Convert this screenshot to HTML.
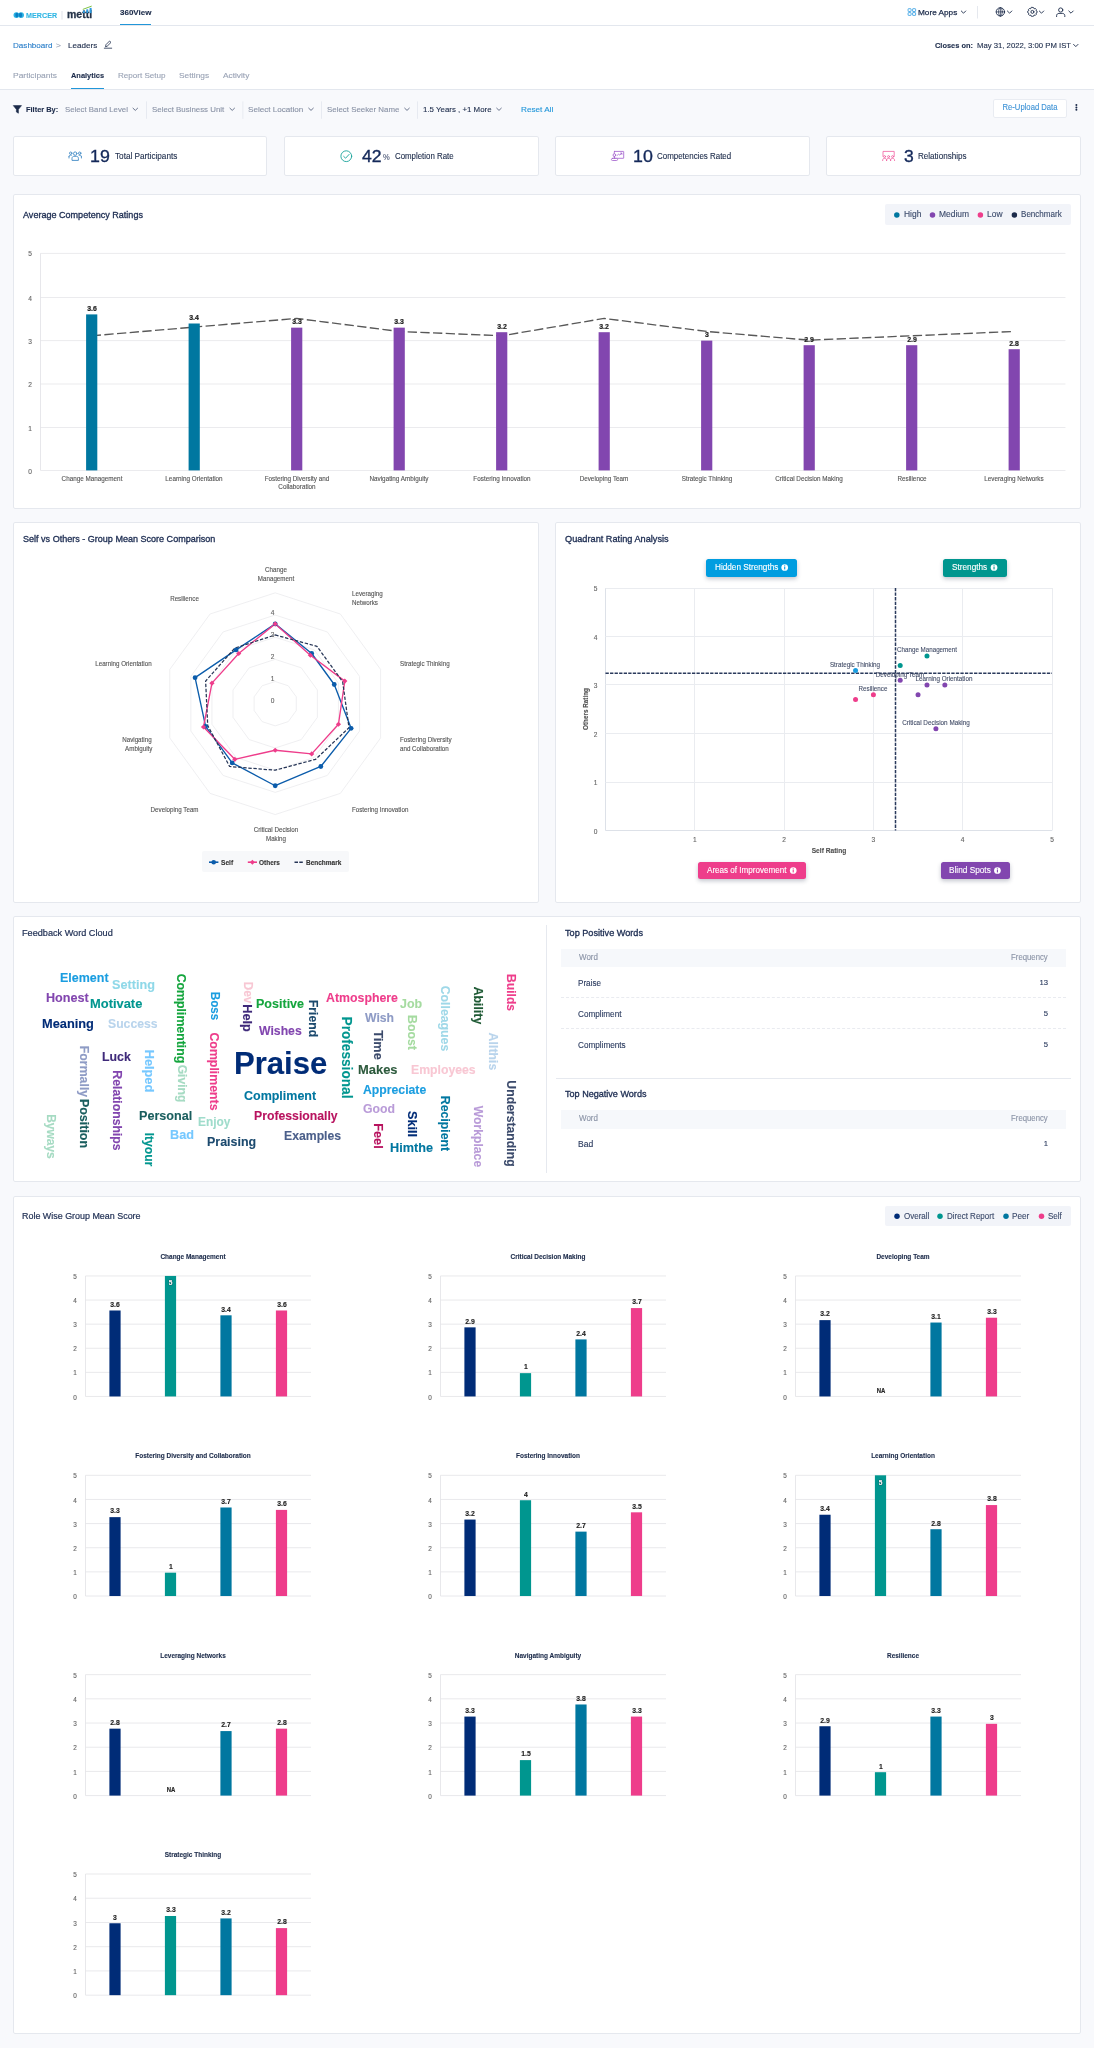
<!DOCTYPE html>
<html><head><meta charset="utf-8"><title>360View Analytics</title>
<style>
html,body{margin:0;padding:0;}
body{width:1094px;height:2048px;background:#f8f9fc;font-family:"Liberation Sans",sans-serif;overflow:hidden;position:relative;}
#root{position:absolute;left:0;top:0;width:1094px;height:2048px;overflow:hidden;will-change:transform;}
.t{position:absolute;white-space:nowrap;margin:0;padding:0;-webkit-text-stroke:0.12px currentColor;}
.b{position:absolute;}
svg{position:absolute;left:0;top:0;overflow:visible;}
svg text{font-family:"Liberation Sans",sans-serif;}
</style></head><body><div id="root">
<div class="b" style="left:0.00px;top:0.00px;width:1094.00px;height:25.00px;background:#fff;border-bottom:1px solid #e3e7ee;"></div>
<div class="b" style="left:0.00px;top:26.00px;width:1094.00px;height:63.00px;background:#fff;border-bottom:1px solid #e3e7ee;"></div>
<svg width="110" height="26" viewBox="0 0 110 26">
<circle cx="16.4" cy="15.1" r="2.9" fill="#2bb3e3"/><circle cx="21.1" cy="15.1" r="2.9" fill="#2bb3e3"/>
<ellipse cx="16.9" cy="15.1" rx="1.6" ry="2.3" fill="#0b7fc4"/><ellipse cx="20.6" cy="15.1" rx="1.6" ry="2.3" fill="#0b7fc4"/>
<rect x="61.6" y="11" width="0.8" height="8.6" fill="#d9dde3"/>
</svg>
<div class="t" style="left:26.24px;transform-origin:0 50%;top:10.68px;font-size:7.9px;line-height:10px;color:#30b6e4;font-weight:700;transform:scaleX(0.8995);letter-spacing:0.1px;">MERCER</div>
<div class="t" style="left:67.22px;transform-origin:0 50%;top:8.22px;font-size:10.2px;line-height:13px;color:#263449;font-weight:700;transform:scaleX(1.0304);-webkit-text-stroke:0.3px #263449;">mettl</div>
<svg width="110" height="26" viewBox="0 0 110 26">
<rect x="82.9" y="10.6" width="1.9" height="2.4" fill="#2d9be0"/>
<rect x="86.3" y="9.3" width="1.9" height="3.7" fill="#2d9be0"/>
<rect x="89.6" y="7.9" width="2.0" height="5.2" fill="#2d9be0"/>
<path d="M82.8 9.4 L91.7 6.1" stroke="#7dc243" stroke-width="1.0" fill="none"/>
</svg>
<div class="t" style="left:119.54px;transform-origin:0 50%;top:7.94px;font-size:8px;line-height:10px;color:#1c2b4a;font-weight:700;transform:scaleX(1.0006);">360View</div>
<div class="b" style="left:119.70px;top:23.80px;width:31.50px;height:1.30px;background:#2196d9;"></div>
<svg width="1094" height="26" viewBox="0 0 1094 26" fill="none">
<g stroke="#47a8e5" stroke-width="0.9">
<rect x="908.1" y="8.7" width="3" height="2.8" rx="0.4"/><rect x="912.6" y="8.7" width="3" height="2.8" rx="0.4"/>
<rect x="908.1" y="12.6" width="3" height="2.8" rx="0.4"/><rect x="912.6" y="12.6" width="3" height="2.8" rx="0.4"/>
</g>
<g stroke="#1c2b4a" stroke-width="0.9" stroke-linecap="round" stroke-linejoin="round">
<path d="M961.3 11 L963.5 13.2 L965.7 11"/>
<circle cx="1000.4" cy="11.9" r="4.2"/><ellipse cx="1000.4" cy="11.9" rx="1.9" ry="4.2" stroke-width="0.7"/><path d="M996.2 11.9 H1004.6 M1000.4 7.7 V16.1" stroke-width="0.7"/>
<path d="M1007.4 11 L1009.6 13.2 L1011.8 11"/>
<circle cx="1032.4" cy="11.9" r="1.5"/>
<path d="M1032.4 7.4 l1.3 0.3 l0.5 1.1 l1.2 -0.3 l0.9 0.9 l-0.3 1.2 l1.1 0.6 l0 1.4 l-1.1 0.6 l0.3 1.2 l-0.9 0.9 l-1.2 -0.3 l-0.5 1.1 l-1.3 0.3 l-1.3 -0.3 l-0.5 -1.1 l-1.2 0.3 l-0.9 -0.9 l0.3 -1.2 l-1.1 -0.6 l0 -1.4 l1.1 -0.6 l-0.3 -1.2 l0.9 -0.9 l1.2 0.3 l0.5 -1.1 z"/>
<path d="M1039.3 11 L1041.5 13.2 L1043.7 11"/>
<circle cx="1060.7" cy="10" r="2.1"/><path d="M1056.6 16.6 V15.6 C1056.6 14.2 1057.8 13.4 1059 13.4 H1062.4 C1063.6 13.4 1064.8 14.2 1064.8 15.6 V16.6"/>
<path d="M1068.8 11 L1071 13.2 L1073.2 11"/>
</g>
<rect x="977.2" y="6" width="0.8" height="12.5" fill="#dfe3ea"/>
</svg>
<div class="t" style="left:918.04px;transform-origin:0 50%;top:7.84px;font-size:8px;line-height:10px;color:#1c2b4a;font-weight:400;transform:scaleX(1.0263);-webkit-text-stroke:0.25px #1c2b4a;">More Apps</div>
<div class="t" style="left:13.05px;transform-origin:0 50%;top:41.04px;font-size:8px;line-height:10px;color:#2b7fc9;font-weight:400;transform:scaleX(1.0105);">Dashboard</div>
<div class="t" style="left:56.22px;transform-origin:0 50%;top:40.84px;font-size:8px;line-height:10px;color:#9aa3b5;font-weight:400;transform:scaleX(1.0606);">&gt;</div>
<div class="t" style="left:67.85px;transform-origin:0 50%;top:41.04px;font-size:8px;line-height:10px;color:#1c2b4a;font-weight:400;transform:scaleX(1.0107);">Leaders</div>
<svg width="120" height="60" viewBox="0 0 120 60" fill="none" stroke="#1c2b4a" stroke-width="0.8" stroke-linejoin="round" stroke-linecap="round">
<path d="M105.6 46.4 L106 44.6 L109.6 41 L111 42.4 L107.4 46 Z"/><path d="M104.3 48.2 H111.7"/></svg>
<div class="t" style="left:934.70px;transform-origin:0 50%;top:41.04px;font-size:8px;line-height:10px;color:#1c2b4a;font-weight:700;transform:scaleX(0.9287);">Closes on:</div>
<div class="t" style="left:976.58px;transform-origin:0 50%;top:41.04px;font-size:8px;line-height:10px;color:#1c2b4a;font-weight:400;transform:scaleX(0.9652);">May 31, 2022, 3:00 PM IST</div>
<svg width="1094" height="60" viewBox="0 0 1094 60" fill="none" stroke="#1c2b4a" stroke-width="0.9" stroke-linecap="round" stroke-linejoin="round"><path d="M1073.6 44.4 L1075.8 46.6 L1078 44.4"/></svg>
<div class="t" style="left:13.03px;transform-origin:0 50%;top:70.94px;font-size:8px;line-height:10px;color:#9aa3b5;font-weight:400;transform:scaleX(1.0543);">Participants</div>
<div class="t" style="left:71.11px;transform-origin:0 50%;top:70.94px;font-size:8px;line-height:10px;color:#1c2b4a;font-weight:700;transform:scaleX(0.9293);">Analytics</div>
<div class="t" style="left:117.55px;transform-origin:0 50%;top:70.94px;font-size:8px;line-height:10px;color:#9aa3b5;font-weight:400;transform:scaleX(1.0095);">Report Setup</div>
<div class="t" style="left:178.63px;transform-origin:0 50%;top:70.94px;font-size:8px;line-height:10px;color:#9aa3b5;font-weight:400;transform:scaleX(1.0396);">Settings</div>
<div class="t" style="left:222.90px;transform-origin:0 50%;top:70.94px;font-size:8px;line-height:10px;color:#9aa3b5;font-weight:400;transform:scaleX(1.0387);">Activity</div>
<div class="b" style="left:71.00px;top:87.70px;width:33.30px;height:1.30px;background:#2196d9;"></div>
<svg width="1094" height="130" viewBox="0 0 1094 130">
<path d="M13.3 105.6 H21.5 L18.4 109.4 V113.2 L16.4 112 V109.4 Z" fill="#1c2b4a" stroke="#1c2b4a" stroke-width="0.6" stroke-linejoin="round"/>
<g fill="none" stroke="#5a6580" stroke-width="0.9" stroke-linecap="round" stroke-linejoin="round">
<path d="M133 108.2 L135.3 110.4 L137.6 108.2"/>
<path d="M229.9 108.2 L232.2 110.4 L234.5 108.2"/>
<path d="M308.7 108.2 L311 110.4 L313.3 108.2"/>
<path d="M404.7 108.2 L407 110.4 L409.3 108.2"/>
<path d="M496.7 108.2 L499 110.4 L501.3 108.2"/>
</g>
<g fill="#e3e7ee"><rect x="146" y="101.4" width="0.8" height="17.4"/><rect x="242.5" y="101.4" width="0.8" height="17.4"/><rect x="321" y="101.4" width="0.8" height="17.4"/><rect x="417.2" y="101.4" width="0.8" height="17.4"/></g>
<g fill="#1c2b4a"><circle cx="1076.4" cy="105.0" r="1.0"/><circle cx="1076.4" cy="107.4" r="1.0"/><circle cx="1076.4" cy="109.8" r="1.0"/></g>
</svg>
<div class="t" style="left:25.52px;transform-origin:0 50%;top:104.94px;font-size:8px;line-height:10px;color:#1c2b4a;font-weight:700;transform:scaleX(0.9281);">Filter By:</div>
<div class="t" style="left:64.55px;transform-origin:0 50%;top:104.94px;font-size:8px;line-height:10px;color:#8a93a6;font-weight:400;transform:scaleX(0.9758);">Select Band Level</div>
<div class="t" style="left:151.75px;transform-origin:0 50%;top:104.94px;font-size:8px;line-height:10px;color:#8a93a6;font-weight:400;transform:scaleX(0.9849);">Select Business Unit</div>
<div class="t" style="left:248.24px;transform-origin:0 50%;top:104.94px;font-size:8px;line-height:10px;color:#8a93a6;font-weight:400;transform:scaleX(1.0123);">Select Location</div>
<div class="t" style="left:327.24px;transform-origin:0 50%;top:104.94px;font-size:8px;line-height:10px;color:#8a93a6;font-weight:400;transform:scaleX(0.9865);">Select Seeker Name</div>
<div class="t" style="left:423.21px;transform-origin:0 50%;top:104.94px;font-size:8px;line-height:10px;color:#1c2b4a;font-weight:400;transform:scaleX(0.9843);">1.5 Years , +1 More</div>
<div class="t" style="left:520.75px;transform-origin:0 50%;top:104.94px;font-size:8px;line-height:10px;color:#2196d9;font-weight:400;transform:scaleX(1.0217);">Reset All</div>
<div class="b" style="left:993.40px;top:99.00px;width:73.60px;height:18.60px;background:#fff;border:1px solid #e9ecf2;border-radius:2px;box-sizing:border-box;"></div>
<div class="t" style="left:529.78px;width:1000px;text-align:center;transform-origin:50% 50%;top:102.86px;font-size:8.2px;line-height:10px;color:#3f93d6;font-weight:400;transform:scaleX(0.9368);">Re-Upload Data</div>
<div class="b" style="left:13.10px;top:136.00px;width:254.10px;height:39.60px;background:#fff;border:1px solid #e5e8ee;border-radius:2px;box-sizing:border-box;"></div>
<div class="b" style="left:284.40px;top:136.00px;width:254.60px;height:39.60px;background:#fff;border:1px solid #e5e8ee;border-radius:2px;box-sizing:border-box;"></div>
<div class="b" style="left:555.20px;top:136.00px;width:254.80px;height:39.60px;background:#fff;border:1px solid #e5e8ee;border-radius:2px;box-sizing:border-box;"></div>
<div class="b" style="left:826.40px;top:136.00px;width:254.70px;height:39.60px;background:#fff;border:1px solid #e5e8ee;border-radius:2px;box-sizing:border-box;"></div>
<div class="t" style="left:90.47px;transform-origin:0 50%;top:145.96px;font-size:17px;line-height:21px;color:#14295a;font-weight:400;transform:scaleX(1.0458);-webkit-text-stroke:0.35px #14295a;">19</div>
<div class="t" style="left:115.14px;transform-origin:0 50%;top:151.18px;font-size:8.55px;line-height:11px;color:#1c2b4a;font-weight:400;transform:scaleX(0.9576);">Total Participants</div>
<div class="t" style="left:361.95px;transform-origin:0 50%;top:145.96px;font-size:17px;line-height:21px;color:#14295a;font-weight:400;transform:scaleX(1.0357);-webkit-text-stroke:0.35px #14295a;">42</div>
<div class="t" style="left:382.84px;transform-origin:0 50%;top:152.22px;font-size:9px;line-height:11px;color:#4a5675;font-weight:400;transform:scaleX(0.8401);">%</div>
<div class="t" style="left:394.61px;transform-origin:0 50%;top:151.18px;font-size:8.55px;line-height:11px;color:#1c2b4a;font-weight:400;transform:scaleX(0.9207);">Completion Rate</div>
<div class="t" style="left:632.66px;transform-origin:0 50%;top:145.96px;font-size:17px;line-height:21px;color:#14295a;font-weight:400;transform:scaleX(1.0471);-webkit-text-stroke:0.35px #14295a;">10</div>
<div class="t" style="left:656.60px;transform-origin:0 50%;top:151.18px;font-size:8.55px;line-height:11px;color:#1c2b4a;font-weight:400;transform:scaleX(0.9293);">Competencies Rated</div>
<div class="t" style="left:904.19px;transform-origin:0 50%;top:145.96px;font-size:17px;line-height:21px;color:#14295a;font-weight:400;transform:scaleX(1.0294);-webkit-text-stroke:0.35px #14295a;">3</div>
<div class="t" style="left:918.05px;transform-origin:0 50%;top:151.18px;font-size:8.55px;line-height:11px;color:#1c2b4a;font-weight:400;transform:scaleX(0.9452);">Relationships</div>
<svg width="1094" height="180" viewBox="0 0 1094 180" fill="none" stroke-linecap="round" stroke-linejoin="round">
<g stroke="#4a8fc7" stroke-width="0.95">
<circle cx="75.2" cy="153.6" r="1.7"/><path d="M72 160 V158.3 C72 157 73 156.3 74 156.3 H76.4 C77.4 156.3 78.4 157 78.4 158.3 V160 Z"/>
<circle cx="70.7" cy="153.2" r="1.2"/><path d="M69 156.6 C69 155.6 69.6 155.2 70.4 155.2 H71.4"/><path d="M69 156.6 V158"/>
<circle cx="79.7" cy="153.2" r="1.2"/><path d="M81.4 156.6 C81.4 155.6 80.8 155.2 80 155.2 H79"/><path d="M81.4 156.6 V158"/>
</g>
<g stroke="#17a39a" stroke-width="0.9"><circle cx="346.3" cy="156.2" r="5.4"/><path d="M343.7 156.4 L345.6 158.2 L349.1 154.4"/></g>
<g stroke="#a565cf" stroke-width="0.85">
<rect x="614.3" y="151.4" width="9.4" height="6.9" rx="0.3"/><path d="M617.4 155.2 L618.6 154.2 L619.8 155 L621.8 153.2 M620.6 153.1 H621.9 V154.4"/>
<circle cx="614.4" cy="155.1" r="1.35" fill="#fff"/><rect x="611.4" y="158.4" width="6.2" height="2.1" rx="1.05" fill="#fff"/><path d="M614.4 156.5 V158.4"/>
</g>
<g stroke="#f0609f" stroke-width="0.8">
<path d="M883 156.4 V151.4 H894.2 V156.4"/>
<circle cx="884.6" cy="156.6" r="1"/><path d="M882.6 160.6 C882.6 158.8 883.4 158.3 884.6 158.3 C885.8 158.3 886.6 158.8 886.6 160.6"/>
<circle cx="888.6" cy="156.6" r="1"/><path d="M886.6 160.6 C886.6 158.8 887.4 158.3 888.6 158.3 C889.8 158.3 890.6 158.8 890.6 160.6"/>
<circle cx="892.6" cy="156.6" r="1"/><path d="M890.6 160.6 C890.6 158.8 891.4 158.3 892.6 158.3 C893.8 158.3 894.6 158.8 894.6 160.6"/>
</g>
</svg>
<div class="b" style="left:13.10px;top:194.40px;width:1068.00px;height:314.50px;background:#fff;border:1px solid #e5e8ee;border-radius:2px;box-sizing:border-box;"></div>
<div class="t" style="left:23.00px;transform-origin:0 50%;top:209.83px;font-size:9.1px;line-height:11px;color:#1d2d52;font-weight:400;transform:scaleX(0.9942);-webkit-text-stroke:0.32px #1d2d52;">Average Competency Ratings</div>
<div class="b" style="left:885.20px;top:204.10px;width:185.90px;height:20.80px;background:#f2f4f9;border-radius:2px;"></div>
<svg width="1094" height="2048" viewBox="0 0 1094 2048"><circle cx="896.8" cy="214.90" r="2.75" fill="#0077a0"/></svg>
<div class="t" style="left:903.62px;transform-origin:0 50%;top:209.06px;font-size:8.3px;line-height:10px;color:#3b4a6b;font-weight:400;transform:scaleX(1.0192);">High</div>
<svg width="1094" height="2048" viewBox="0 0 1094 2048"><circle cx="932.5" cy="214.90" r="2.75" fill="#8246af"/></svg>
<div class="t" style="left:939.12px;transform-origin:0 50%;top:209.06px;font-size:8.3px;line-height:10px;color:#3b4a6b;font-weight:400;transform:scaleX(1.0196);">Medium</div>
<svg width="1094" height="2048" viewBox="0 0 1094 2048"><circle cx="980.4" cy="214.90" r="2.75" fill="#ee3d8b"/></svg>
<div class="t" style="left:987.23px;transform-origin:0 50%;top:209.06px;font-size:8.3px;line-height:10px;color:#3b4a6b;font-weight:400;transform:scaleX(1.0160);">Low</div>
<svg width="1094" height="2048" viewBox="0 0 1094 2048"><circle cx="1014.4" cy="214.90" r="2.75" fill="#1c2b4a"/></svg>
<div class="t" style="left:1021.25px;transform-origin:0 50%;top:209.06px;font-size:8.3px;line-height:10px;color:#3b4a6b;font-weight:400;transform:scaleX(0.9716);">Benchmark</div>
<svg width="1094" height="520" viewBox="0 0 1094 520"><rect x="40.45" y="470.00" width="1025.00" height="1" fill="#ebebee"/><rect x="40.45" y="427.00" width="1025.00" height="1" fill="#ebebee"/><rect x="40.45" y="383.50" width="1025.00" height="1" fill="#ebebee"/><rect x="40.45" y="340.10" width="1025.00" height="1" fill="#ebebee"/><rect x="40.45" y="297.00" width="1025.00" height="1" fill="#ebebee"/><rect x="40.45" y="252.90" width="1025.00" height="1" fill="#ebebee"/><rect x="40.050000000000004" y="253.30" width="0.8" height="217.10" fill="#e2e2e6"/><polyline points="91.70,335.80 194.20,327.11 296.70,318.43 399.20,331.46 501.70,335.80 604.20,318.43 706.70,331.46 809.20,340.14 911.70,335.80 1014.20,331.46" fill="none" stroke="#585858" stroke-width="1.35" stroke-dasharray="9.3 3.4"/><rect x="86.10" y="314.40" width="11.2" height="156.00" fill="#0077a0"/><rect x="188.60" y="323.50" width="11.2" height="146.90" fill="#0077a0"/><rect x="291.10" y="327.65" width="11.2" height="142.75" fill="#8246af"/><rect x="393.60" y="327.65" width="11.2" height="142.75" fill="#8246af"/><rect x="496.10" y="332.20" width="11.2" height="138.20" fill="#8246af"/><rect x="598.60" y="332.20" width="11.2" height="138.20" fill="#8246af"/><rect x="701.10" y="340.60" width="11.2" height="129.80" fill="#8246af"/><rect x="803.60" y="345.20" width="11.2" height="125.20" fill="#8246af"/><rect x="906.10" y="345.20" width="11.2" height="125.20" fill="#8246af"/><rect x="1008.60" y="349.20" width="11.2" height="121.20" fill="#8246af"/></svg>
<div class="t" style="left:-470.00px;width:1000px;text-align:center;transform-origin:50% 50%;top:467.53px;font-size:6.6px;line-height:8px;color:#666;font-weight:400;transform:scaleX(1.0000);">0</div>
<div class="t" style="left:-470.00px;width:1000px;text-align:center;transform-origin:50% 50%;top:424.53px;font-size:6.6px;line-height:8px;color:#666;font-weight:400;transform:scaleX(1.0000);">1</div>
<div class="t" style="left:-470.00px;width:1000px;text-align:center;transform-origin:50% 50%;top:381.03px;font-size:6.6px;line-height:8px;color:#666;font-weight:400;transform:scaleX(1.0000);">2</div>
<div class="t" style="left:-470.00px;width:1000px;text-align:center;transform-origin:50% 50%;top:337.63px;font-size:6.6px;line-height:8px;color:#666;font-weight:400;transform:scaleX(1.0000);">3</div>
<div class="t" style="left:-470.00px;width:1000px;text-align:center;transform-origin:50% 50%;top:294.53px;font-size:6.6px;line-height:8px;color:#666;font-weight:400;transform:scaleX(1.0000);">4</div>
<div class="t" style="left:-470.00px;width:1000px;text-align:center;transform-origin:50% 50%;top:250.43px;font-size:6.6px;line-height:8px;color:#666;font-weight:400;transform:scaleX(1.0000);">5</div>
<div class="t" style="left:-408.30px;width:1000px;text-align:center;transform-origin:50% 50%;top:304.73px;font-size:6.6px;line-height:8px;color:#222;font-weight:700;transform:scaleX(1.0500);-webkit-text-stroke:0.2px #222;">3.6</div>
<div class="t" style="left:-305.80px;width:1000px;text-align:center;transform-origin:50% 50%;top:313.83px;font-size:6.6px;line-height:8px;color:#222;font-weight:700;transform:scaleX(1.0500);-webkit-text-stroke:0.2px #222;">3.4</div>
<div class="t" style="left:-203.30px;width:1000px;text-align:center;transform-origin:50% 50%;top:317.98px;font-size:6.6px;line-height:8px;color:#222;font-weight:700;transform:scaleX(1.0500);-webkit-text-stroke:0.2px #222;">3.3</div>
<div class="t" style="left:-100.80px;width:1000px;text-align:center;transform-origin:50% 50%;top:317.98px;font-size:6.6px;line-height:8px;color:#222;font-weight:700;transform:scaleX(1.0500);-webkit-text-stroke:0.2px #222;">3.3</div>
<div class="t" style="left:1.70px;width:1000px;text-align:center;transform-origin:50% 50%;top:322.53px;font-size:6.6px;line-height:8px;color:#222;font-weight:700;transform:scaleX(1.0500);-webkit-text-stroke:0.2px #222;">3.2</div>
<div class="t" style="left:104.20px;width:1000px;text-align:center;transform-origin:50% 50%;top:322.53px;font-size:6.6px;line-height:8px;color:#222;font-weight:700;transform:scaleX(1.0500);-webkit-text-stroke:0.2px #222;">3.2</div>
<div class="t" style="left:206.70px;width:1000px;text-align:center;transform-origin:50% 50%;top:330.93px;font-size:6.6px;line-height:8px;color:#222;font-weight:700;transform:scaleX(1.0500);-webkit-text-stroke:0.2px #222;">3</div>
<div class="t" style="left:309.20px;width:1000px;text-align:center;transform-origin:50% 50%;top:335.53px;font-size:6.6px;line-height:8px;color:#222;font-weight:700;transform:scaleX(1.0500);-webkit-text-stroke:0.2px #222;">2.9</div>
<div class="t" style="left:411.70px;width:1000px;text-align:center;transform-origin:50% 50%;top:335.53px;font-size:6.6px;line-height:8px;color:#222;font-weight:700;transform:scaleX(1.0500);-webkit-text-stroke:0.2px #222;">2.9</div>
<div class="t" style="left:514.20px;width:1000px;text-align:center;transform-origin:50% 50%;top:339.53px;font-size:6.6px;line-height:8px;color:#222;font-weight:700;transform:scaleX(1.0500);-webkit-text-stroke:0.2px #222;">2.8</div>
<div class="t" style="left:-408.30px;width:1000px;text-align:center;transform-origin:50% 50%;top:474.04px;font-size:6.8px;line-height:9px;color:#555;font-weight:400;transform:scaleX(0.9300);">Change Management</div>
<div class="t" style="left:-305.80px;width:1000px;text-align:center;transform-origin:50% 50%;top:474.04px;font-size:6.8px;line-height:9px;color:#555;font-weight:400;transform:scaleX(0.9300);">Learning Orientation</div>
<div class="t" style="left:-203.30px;width:1000px;text-align:center;transform-origin:50% 50%;top:474.04px;font-size:6.8px;line-height:9px;color:#555;font-weight:400;transform:scaleX(0.9300);">Fostering Diversity and</div>
<div class="t" style="left:-203.30px;width:1000px;text-align:center;transform-origin:50% 50%;top:482.24px;font-size:6.8px;line-height:9px;color:#555;font-weight:400;transform:scaleX(0.9300);">Collaboration</div>
<div class="t" style="left:-100.80px;width:1000px;text-align:center;transform-origin:50% 50%;top:474.04px;font-size:6.8px;line-height:9px;color:#555;font-weight:400;transform:scaleX(0.9300);">Navigating Ambiguity</div>
<div class="t" style="left:1.70px;width:1000px;text-align:center;transform-origin:50% 50%;top:474.04px;font-size:6.8px;line-height:9px;color:#555;font-weight:400;transform:scaleX(0.9300);">Fostering Innovation</div>
<div class="t" style="left:104.20px;width:1000px;text-align:center;transform-origin:50% 50%;top:474.04px;font-size:6.8px;line-height:9px;color:#555;font-weight:400;transform:scaleX(0.9300);">Developing Team</div>
<div class="t" style="left:206.70px;width:1000px;text-align:center;transform-origin:50% 50%;top:474.04px;font-size:6.8px;line-height:9px;color:#555;font-weight:400;transform:scaleX(0.9300);">Strategic Thinking</div>
<div class="t" style="left:309.20px;width:1000px;text-align:center;transform-origin:50% 50%;top:474.04px;font-size:6.8px;line-height:9px;color:#555;font-weight:400;transform:scaleX(0.9300);">Critical Decision Making</div>
<div class="t" style="left:411.70px;width:1000px;text-align:center;transform-origin:50% 50%;top:474.04px;font-size:6.8px;line-height:9px;color:#555;font-weight:400;transform:scaleX(0.9300);">Resilience</div>
<div class="t" style="left:514.20px;width:1000px;text-align:center;transform-origin:50% 50%;top:474.04px;font-size:6.8px;line-height:9px;color:#555;font-weight:400;transform:scaleX(0.9300);">Leveraging Networks</div>
<div class="b" style="left:13.10px;top:522.10px;width:526.00px;height:380.60px;background:#fff;border:1px solid #e5e8ee;border-radius:2px;box-sizing:border-box;"></div>
<div class="t" style="left:22.59px;transform-origin:0 50%;top:533.63px;font-size:9.1px;line-height:11px;color:#1d2d52;font-weight:400;transform:scaleX(0.9936);-webkit-text-stroke:0.32px #1d2d52;">Self vs Others - Group Mean Score Comparison</div>
<div class="b" style="left:201.80px;top:851.20px;width:147.10px;height:20.40px;background:#f7f8fa;border-radius:2px;"></div>
<svg width="560" height="910" viewBox="0 0 560 910" fill="none"><polygon points="275.20,681.53 288.23,685.76 296.28,696.85 296.28,710.55 288.23,721.64 275.20,725.87 262.17,721.64 254.12,710.55 254.12,696.85 262.17,685.76" stroke="#ebebee" stroke-width="0.8"/><polygon points="275.20,659.36 301.26,667.83 317.37,690.00 317.37,717.40 301.26,739.57 275.20,748.04 249.14,739.57 233.03,717.40 233.03,690.00 249.14,667.83" stroke="#ebebee" stroke-width="0.8"/><polygon points="275.20,637.19 314.29,649.89 338.45,683.15 338.45,724.25 314.29,757.51 275.20,770.21 236.11,757.51 211.95,724.25 211.95,683.15 236.11,649.89" stroke="#ebebee" stroke-width="0.8"/><polygon points="275.20,615.02 327.32,631.96 359.54,676.30 359.54,731.10 327.32,775.44 275.20,792.38 223.08,775.44 190.86,731.10 190.86,676.30 223.08,631.96" stroke="#ebebee" stroke-width="0.8"/><polygon points="275.20,592.85 340.36,614.02 380.62,669.45 380.62,737.95 340.36,793.38 275.20,814.55 210.04,793.38 169.78,737.95 169.78,669.45 210.04,614.02" stroke="#ebebee" stroke-width="0.8"/><polygon points="275.20,623.89 311.69,653.48 334.24,684.52 351.11,728.36 320.81,766.48 275.20,785.73 232.20,762.89 205.62,726.31 195.08,677.67 236.11,649.89" stroke="#0b5cab" stroke-width="1.35" stroke-linejoin="round"/><polygon points="275.20,623.89 310.38,655.27 344.78,681.09 338.45,724.25 311.69,753.92 275.20,750.26 234.80,759.30 203.51,726.99 211.95,683.15 238.71,653.48" stroke="#ee3d8b" stroke-width="1.35" stroke-linejoin="round"/><polygon points="275.20,634.97 316.90,646.31 342.67,681.78 349.00,727.68 315.60,759.30 275.20,770.21 229.59,766.48 207.73,725.62 205.62,681.09 234.80,648.10" stroke="#263556" stroke-width="1.25" stroke-dasharray="3.4 1.7" stroke-linejoin="round"/><circle cx="275.20" cy="623.89" r="2.4" fill="#0b5cab"/><circle cx="311.69" cy="653.48" r="2.4" fill="#0b5cab"/><circle cx="334.24" cy="684.52" r="2.4" fill="#0b5cab"/><circle cx="351.11" cy="728.36" r="2.4" fill="#0b5cab"/><circle cx="320.81" cy="766.48" r="2.4" fill="#0b5cab"/><circle cx="275.20" cy="785.73" r="2.4" fill="#0b5cab"/><circle cx="232.20" cy="762.89" r="2.4" fill="#0b5cab"/><circle cx="205.62" cy="726.31" r="2.4" fill="#0b5cab"/><circle cx="195.08" cy="677.67" r="2.4" fill="#0b5cab"/><circle cx="236.11" cy="649.89" r="2.4" fill="#0b5cab"/><path d="M275.20 621.29 L277.80 623.89 L275.20 626.49 L272.60 623.89 Z" fill="#ee3d8b"/><path d="M310.38 652.67 L312.98 655.27 L310.38 657.87 L307.78 655.27 Z" fill="#ee3d8b"/><path d="M344.78 678.49 L347.38 681.09 L344.78 683.69 L342.18 681.09 Z" fill="#ee3d8b"/><path d="M338.45 721.65 L341.05 724.25 L338.45 726.85 L335.85 724.25 Z" fill="#ee3d8b"/><path d="M311.69 751.32 L314.29 753.92 L311.69 756.52 L309.09 753.92 Z" fill="#ee3d8b"/><path d="M275.20 747.66 L277.80 750.26 L275.20 752.86 L272.60 750.26 Z" fill="#ee3d8b"/><path d="M234.80 756.70 L237.40 759.30 L234.80 761.90 L232.20 759.30 Z" fill="#ee3d8b"/><path d="M203.51 724.39 L206.11 726.99 L203.51 729.59 L200.91 726.99 Z" fill="#ee3d8b"/><path d="M211.95 680.55 L214.55 683.15 L211.95 685.75 L209.35 683.15 Z" fill="#ee3d8b"/><path d="M238.71 650.88 L241.31 653.48 L238.71 656.08 L236.11 653.48 Z" fill="#ee3d8b"/><path d="M209 862.2 H218.4" stroke="#0b5cab" stroke-width="1.6"/><circle cx="213.7" cy="862.2" r="2.3" fill="#0b5cab"/><path d="M247.8 862.2 H257" stroke="#ee3d8b" stroke-width="1.6"/><path d="M252.4 859.7 L254.9 862.2 L252.4 864.7 L249.9 862.2 Z" fill="#ee3d8b"/><path d="M294.5 862.2 H302.8" stroke="#263556" stroke-width="1.5" stroke-dasharray="3.5 1.3"/></svg>
<div class="t" style="left:-227.40px;width:1000px;text-align:center;transform-origin:50% 50%;top:697.23px;font-size:6.6px;line-height:8px;color:#666;font-weight:400;transform:scaleX(1.0000);">0</div>
<div class="t" style="left:-227.40px;width:1000px;text-align:center;transform-origin:50% 50%;top:675.06px;font-size:6.6px;line-height:8px;color:#666;font-weight:400;transform:scaleX(1.0000);">1</div>
<div class="t" style="left:-227.40px;width:1000px;text-align:center;transform-origin:50% 50%;top:652.89px;font-size:6.6px;line-height:8px;color:#666;font-weight:400;transform:scaleX(1.0000);">2</div>
<div class="t" style="left:-227.40px;width:1000px;text-align:center;transform-origin:50% 50%;top:630.72px;font-size:6.6px;line-height:8px;color:#666;font-weight:400;transform:scaleX(1.0000);">3</div>
<div class="t" style="left:-227.40px;width:1000px;text-align:center;transform-origin:50% 50%;top:608.55px;font-size:6.6px;line-height:8px;color:#666;font-weight:400;transform:scaleX(1.0000);">4</div>
<div class="t" style="left:-224.50px;width:1000px;text-align:center;transform-origin:50% 50%;top:565.14px;font-size:6.7px;line-height:9px;color:#555;font-weight:400;transform:scaleX(0.9300);">Change</div>
<div class="t" style="left:-224.50px;width:1000px;text-align:center;transform-origin:50% 50%;top:573.54px;font-size:6.7px;line-height:9px;color:#555;font-weight:400;transform:scaleX(0.9300);">Management</div>
<div class="t" style="left:352.00px;transform-origin:0 50%;top:589.14px;font-size:6.7px;line-height:9px;color:#555;font-weight:400;transform:scaleX(0.9300);">Leveraging</div>
<div class="t" style="left:352.00px;transform-origin:0 50%;top:597.54px;font-size:6.7px;line-height:9px;color:#555;font-weight:400;transform:scaleX(0.9300);">Networks</div>
<div class="t" style="left:399.50px;transform-origin:0 50%;top:658.64px;font-size:6.7px;line-height:9px;color:#555;font-weight:400;transform:scaleX(0.9300);">Strategic Thinking</div>
<div class="t" style="left:399.50px;transform-origin:0 50%;top:735.14px;font-size:6.7px;line-height:9px;color:#555;font-weight:400;transform:scaleX(0.9300);">Fostering Diversity</div>
<div class="t" style="left:399.50px;transform-origin:0 50%;top:743.54px;font-size:6.7px;line-height:9px;color:#555;font-weight:400;transform:scaleX(0.9300);">and Collaboration</div>
<div class="t" style="left:352.00px;transform-origin:0 50%;top:804.64px;font-size:6.7px;line-height:9px;color:#555;font-weight:400;transform:scaleX(0.9300);">Fostering Innovation</div>
<div class="t" style="left:-224.50px;width:1000px;text-align:center;transform-origin:50% 50%;top:825.14px;font-size:6.7px;line-height:9px;color:#555;font-weight:400;transform:scaleX(0.9300);">Critical Decision</div>
<div class="t" style="left:-224.50px;width:1000px;text-align:center;transform-origin:50% 50%;top:833.54px;font-size:6.7px;line-height:9px;color:#555;font-weight:400;transform:scaleX(0.9300);">Making</div>
<div class="t" style="right:895.00px;transform-origin:100% 50%;top:804.64px;font-size:6.7px;line-height:9px;color:#555;font-weight:400;transform:scaleX(0.9300);">Developing Team</div>
<div class="t" style="right:942.00px;transform-origin:100% 50%;top:735.14px;font-size:6.7px;line-height:9px;color:#555;font-weight:400;transform:scaleX(0.9300);">Navigating</div>
<div class="t" style="right:942.00px;transform-origin:100% 50%;top:743.54px;font-size:6.7px;line-height:9px;color:#555;font-weight:400;transform:scaleX(0.9300);">Ambiguity</div>
<div class="t" style="right:942.00px;transform-origin:100% 50%;top:658.64px;font-size:6.7px;line-height:9px;color:#555;font-weight:400;transform:scaleX(0.9300);">Learning Orientation</div>
<div class="t" style="right:895.00px;transform-origin:100% 50%;top:593.64px;font-size:6.7px;line-height:9px;color:#555;font-weight:400;transform:scaleX(0.9300);">Resilience</div>
<div class="t" style="left:220.83px;transform-origin:0 50%;top:858.05px;font-size:6.9px;line-height:9px;color:#333;font-weight:700;transform:scaleX(0.9608);">Self</div>
<div class="t" style="left:259.24px;transform-origin:0 50%;top:858.05px;font-size:6.9px;line-height:9px;color:#333;font-weight:700;transform:scaleX(0.9447);">Others</div>
<div class="t" style="left:306.08px;transform-origin:0 50%;top:858.05px;font-size:6.9px;line-height:9px;color:#333;font-weight:700;transform:scaleX(0.9420);">Benchmark</div>
<div class="b" style="left:555.10px;top:522.10px;width:526.00px;height:380.60px;background:#fff;border:1px solid #e5e8ee;border-radius:2px;box-sizing:border-box;"></div>
<div class="t" style="left:564.59px;transform-origin:0 50%;top:533.63px;font-size:9.1px;line-height:11px;color:#1d2d52;font-weight:400;transform:scaleX(1.0101);-webkit-text-stroke:0.32px #1d2d52;">Quadrant Rating Analysis</div>
<svg width="1094" height="910" viewBox="0 0 1094 910" fill="none"><rect x="605" y="588.00" width="1" height="242.50" fill="#dde1e8"/><rect x="605.50" y="830" width="446.50" height="1" fill="#dde1e8"/><rect x="694" y="588.00" width="1" height="242.50" fill="#eaecf0"/><rect x="605.50" y="782" width="446.50" height="1" fill="#eaecf0"/><rect x="784" y="588.00" width="1" height="242.50" fill="#eaecf0"/><rect x="605.50" y="733" width="446.50" height="1" fill="#eaecf0"/><rect x="873" y="588.00" width="1" height="242.50" fill="#eaecf0"/><rect x="605.50" y="684" width="446.50" height="1" fill="#eaecf0"/><rect x="962" y="588.00" width="1" height="242.50" fill="#eaecf0"/><rect x="605.50" y="636" width="446.50" height="1" fill="#eaecf0"/><rect x="1052" y="588.00" width="1" height="242.50" fill="#eaecf0"/><rect x="605.50" y="588" width="446.50" height="1" fill="#eaecf0"/><path d="M895.5 588.00 V830.50" stroke="#2a3a5c" stroke-width="1.5" stroke-dasharray="3.3 1.25"/><path d="M605.50 673.2 H1052.00" stroke="#2a3a5c" stroke-width="1.5" stroke-dasharray="3.3 1.25"/><circle cx="926.98" cy="655.90" r="2.5" fill="#00968f"/><circle cx="900.19" cy="665.60" r="2.5" fill="#00968f"/><circle cx="855.54" cy="670.45" r="2.5" fill="#1a9de0"/><circle cx="900.19" cy="680.15" r="2.5" fill="#8246af"/><circle cx="926.98" cy="685.00" r="2.5" fill="#8246af"/><circle cx="944.84" cy="685.00" r="2.5" fill="#8246af"/><circle cx="918.05" cy="694.70" r="2.5" fill="#8246af"/><circle cx="873.40" cy="694.70" r="2.5" fill="#ee3d8b"/><circle cx="855.54" cy="699.55" r="2.5" fill="#ee3d8b"/><circle cx="935.91" cy="728.65" r="2.5" fill="#8246af"/></svg>
<div class="t" style="left:194.80px;width:1000px;text-align:center;transform-origin:50% 50%;top:835.53px;font-size:6.6px;line-height:8px;color:#666;font-weight:400;transform:scaleX(1.0000);">1</div>
<div class="t" style="left:284.10px;width:1000px;text-align:center;transform-origin:50% 50%;top:835.53px;font-size:6.6px;line-height:8px;color:#666;font-weight:400;transform:scaleX(1.0000);">2</div>
<div class="t" style="left:373.40px;width:1000px;text-align:center;transform-origin:50% 50%;top:835.53px;font-size:6.6px;line-height:8px;color:#666;font-weight:400;transform:scaleX(1.0000);">3</div>
<div class="t" style="left:462.70px;width:1000px;text-align:center;transform-origin:50% 50%;top:835.53px;font-size:6.6px;line-height:8px;color:#666;font-weight:400;transform:scaleX(1.0000);">4</div>
<div class="t" style="left:552.00px;width:1000px;text-align:center;transform-origin:50% 50%;top:835.53px;font-size:6.6px;line-height:8px;color:#666;font-weight:400;transform:scaleX(1.0000);">5</div>
<div class="t" style="left:95.50px;width:1000px;text-align:center;transform-origin:50% 50%;top:827.53px;font-size:6.6px;line-height:8px;color:#666;font-weight:400;transform:scaleX(1.0000);">0</div>
<div class="t" style="left:95.50px;width:1000px;text-align:center;transform-origin:50% 50%;top:779.03px;font-size:6.6px;line-height:8px;color:#666;font-weight:400;transform:scaleX(1.0000);">1</div>
<div class="t" style="left:95.50px;width:1000px;text-align:center;transform-origin:50% 50%;top:730.53px;font-size:6.6px;line-height:8px;color:#666;font-weight:400;transform:scaleX(1.0000);">2</div>
<div class="t" style="left:95.50px;width:1000px;text-align:center;transform-origin:50% 50%;top:682.03px;font-size:6.6px;line-height:8px;color:#666;font-weight:400;transform:scaleX(1.0000);">3</div>
<div class="t" style="left:95.50px;width:1000px;text-align:center;transform-origin:50% 50%;top:633.53px;font-size:6.6px;line-height:8px;color:#666;font-weight:400;transform:scaleX(1.0000);">4</div>
<div class="t" style="left:95.50px;width:1000px;text-align:center;transform-origin:50% 50%;top:585.03px;font-size:6.6px;line-height:8px;color:#666;font-weight:400;transform:scaleX(1.0000);">5</div>
<div class="t" style="left:328.64px;width:1000px;text-align:center;transform-origin:50% 50%;top:845.64px;font-size:6.8px;line-height:9px;color:#505050;font-weight:700;transform:scaleX(0.9747);">Self Rating</div>
<div class="t" style="left:485.5px;width:200px;text-align:center;top:705px;font-size:6.8px;line-height:8px;color:#505050;font-weight:700;transform:rotate(-90deg) scaleX(0.93);transform-origin:50% 50%;">Others Rating</div>
<div class="t" style="left:426.55px;width:1000px;text-align:center;transform-origin:50% 50%;top:645.44px;font-size:6.8px;line-height:9px;color:#46506a;font-weight:400;transform:scaleX(0.9148);">Change Management</div>
<div class="t" style="left:355.25px;width:1000px;text-align:center;transform-origin:50% 50%;top:659.94px;font-size:6.8px;line-height:9px;color:#46506a;font-weight:400;transform:scaleX(0.9238);">Strategic Thinking</div>
<div class="t" style="left:400.15px;width:1000px;text-align:center;transform-origin:50% 50%;top:669.94px;font-size:6.8px;line-height:9px;color:#46506a;font-weight:400;transform:scaleX(0.9234);">Developing Team</div>
<div class="t" style="left:444.44px;width:1000px;text-align:center;transform-origin:50% 50%;top:674.44px;font-size:6.8px;line-height:9px;color:#46506a;font-weight:400;transform:scaleX(0.9232);">Learning Orientation</div>
<div class="t" style="left:373.39px;width:1000px;text-align:center;transform-origin:50% 50%;top:683.94px;font-size:6.8px;line-height:9px;color:#46506a;font-weight:400;transform:scaleX(0.9171);">Resilience</div>
<div class="t" style="left:435.53px;width:1000px;text-align:center;transform-origin:50% 50%;top:717.94px;font-size:6.8px;line-height:9px;color:#46506a;font-weight:400;transform:scaleX(0.9330);">Critical Decision Making</div>
<div class="b" style="left:706.00px;top:558.50px;width:91.00px;height:18.00px;background:#009de0;border-radius:2.5px;box-shadow:0 2px 4px rgba(40,50,80,0.28);"></div>
<div class="t" style="left:714.55px;transform-origin:0 50%;top:562.48px;font-size:8.5px;line-height:11px;color:#fff;font-weight:400;transform:scaleX(0.9646);">Hidden Strengths</div>
<svg width="1094" height="910" viewBox="0 0 1094 910"><circle cx="784.70" cy="567.50" r="3.35" fill="#fff"/><rect x="784.15" y="566.80" width="1.1" height="2.6" fill="#009de0"/><circle cx="784.70" cy="565.80" r="0.65" fill="#009de0"/></svg>
<div class="b" style="left:943.00px;top:558.50px;width:63.50px;height:18.00px;background:#00968f;border-radius:2.5px;box-shadow:0 2px 4px rgba(40,50,80,0.28);"></div>
<div class="t" style="left:952.00px;transform-origin:0 50%;top:562.48px;font-size:8.5px;line-height:11px;color:#fff;font-weight:400;transform:scaleX(0.9682);">Strengths</div>
<svg width="1094" height="910" viewBox="0 0 1094 910"><circle cx="994.03" cy="567.50" r="3.35" fill="#fff"/><rect x="993.48" y="566.80" width="1.1" height="2.6" fill="#00968f"/><circle cx="994.03" cy="565.80" r="0.65" fill="#00968f"/></svg>
<div class="b" style="left:697.50px;top:862.00px;width:108.00px;height:17.00px;background:#ee3d8b;border-radius:2.5px;box-shadow:0 2px 4px rgba(40,50,80,0.28);"></div>
<div class="t" style="left:706.68px;transform-origin:0 50%;top:865.48px;font-size:8.5px;line-height:11px;color:#fff;font-weight:400;transform:scaleX(0.9503);">Areas of Improvement</div>
<svg width="1094" height="910" viewBox="0 0 1094 910"><circle cx="793.22" cy="870.50" r="3.35" fill="#fff"/><rect x="792.67" y="869.80" width="1.1" height="2.6" fill="#ee3d8b"/><circle cx="793.22" cy="868.80" r="0.65" fill="#ee3d8b"/></svg>
<div class="b" style="left:940.50px;top:862.00px;width:69.00px;height:17.00px;background:#8246af;border-radius:2.5px;box-shadow:0 2px 4px rgba(40,50,80,0.28);"></div>
<div class="t" style="left:948.81px;transform-origin:0 50%;top:865.48px;font-size:8.5px;line-height:11px;color:#fff;font-weight:400;transform:scaleX(0.9719);">Blind Spots</div>
<svg width="1094" height="910" viewBox="0 0 1094 910"><circle cx="997.42" cy="870.50" r="3.35" fill="#fff"/><rect x="996.87" y="869.80" width="1.1" height="2.6" fill="#8246af"/><circle cx="997.42" cy="868.80" r="0.65" fill="#8246af"/></svg>
<div class="b" style="left:13.10px;top:916.10px;width:1068.00px;height:265.60px;background:#fff;border:1px solid #e5e8ee;border-radius:2px;box-sizing:border-box;"></div>
<div class="t" style="left:22.27px;transform-origin:0 50%;top:927.83px;font-size:9.1px;line-height:11px;color:#1d2d52;font-weight:400;transform:scaleX(1.0046);-webkit-text-stroke:0.2px #1d2d52;">Feedback Word Cloud</div>
<div class="b" style="left:546.20px;top:925.00px;width:0.80px;height:248.00px;background:#e6e9ef;"></div>
<div class="t" style="left:59.59px;transform-origin:0 50%;top:970.33px;font-size:12.86px;line-height:16px;color:#1a9de0;font-weight:700;transform:scaleX(0.9702);">Element</div>
<div class="t" style="left:111.88px;transform-origin:0 50%;top:977.04px;font-size:13.06px;line-height:16px;color:#8fd8e8;font-weight:700;transform:scaleX(0.9699);">Setting</div>
<div class="t" style="left:45.78px;transform-origin:0 50%;top:990.04px;font-size:13.03px;line-height:16px;color:#8246af;font-weight:700;transform:scaleX(0.9700);">Honest</div>
<div class="t" style="left:90.46px;transform-origin:0 50%;top:996.46px;font-size:13.3px;line-height:16px;color:#00968f;font-weight:700;transform:scaleX(0.9702);">Motivate</div>
<div class="t" style="left:41.57px;transform-origin:0 50%;top:1016.26px;font-size:13.21px;line-height:16px;color:#002c77;font-weight:700;transform:scaleX(0.9701);">Meaning</div>
<div class="t" style="left:108.39px;transform-origin:0 50%;top:1016.21px;font-size:12.6px;line-height:16px;color:#b9d4ec;font-weight:700;transform:scaleX(0.9702);">Success</div>
<div class="t" style="left:101.90px;transform-origin:0 50%;top:1048.72px;font-size:12.73px;line-height:16px;color:#3f2a7a;font-weight:700;transform:scaleX(0.9703);">Luck</div>
<div class="t" style="left:139.18px;transform-origin:0 50%;top:1107.74px;font-size:13.01px;line-height:16px;color:#1a5e5e;font-weight:700;transform:scaleX(0.9697);">Personal</div>
<div class="t" style="left:198.43px;transform-origin:0 50%;top:1115.28px;font-size:12.27px;line-height:15px;color:#9fdccb;font-weight:700;transform:scaleX(0.9700);">Enjoy</div>
<div class="t" style="left:170.38px;transform-origin:0 50%;top:1127.44px;font-size:13.06px;line-height:16px;color:#76c8ff;font-weight:700;transform:scaleX(0.9702);">Bad</div>
<div class="t" style="left:206.69px;transform-origin:0 50%;top:1133.83px;font-size:12.84px;line-height:16px;color:#1c4a6e;font-weight:700;transform:scaleX(0.9697);">Praising</div>
<div class="t" style="left:256.18px;transform-origin:0 50%;top:996.43px;font-size:12.93px;line-height:16px;color:#14a53d;font-weight:700;transform:scaleX(0.9698);">Positive</div>
<div class="t" style="left:259.20px;transform-origin:0 50%;top:1022.61px;font-size:12.62px;line-height:16px;color:#8246af;font-weight:700;transform:scaleX(0.9701);">Wishes</div>
<div class="t" style="left:233.58px;transform-origin:0 50%;top:1044.16px;font-size:32px;line-height:39px;color:#002c77;font-weight:700;transform:scaleX(0.9714);">Praise</div>
<div class="t" style="left:244.20px;transform-origin:0 50%;top:1088.23px;font-size:12.86px;line-height:16px;color:#0077a0;font-weight:700;transform:scaleX(0.9703);">Compliment</div>
<div class="t" style="left:254.40px;transform-origin:0 50%;top:1107.71px;font-size:12.62px;line-height:16px;color:#b8135f;font-weight:700;transform:scaleX(0.9703);">Professionally</div>
<div class="t" style="left:284.30px;transform-origin:0 50%;top:1127.91px;font-size:12.61px;line-height:16px;color:#4b5f8a;font-weight:700;transform:scaleX(0.9700);">Examples</div>
<div class="t" style="left:326.19px;transform-origin:0 50%;top:990.02px;font-size:12.72px;line-height:16px;color:#ee3d8b;font-weight:700;transform:scaleX(0.9698);">Atmosphere</div>
<div class="t" style="left:400.41px;transform-origin:0 50%;top:996.43px;font-size:12.83px;line-height:16px;color:#a5dba0;font-weight:700;transform:scaleX(0.9697);">Job</div>
<div class="t" style="left:364.50px;transform-origin:0 50%;top:1009.51px;font-size:12.58px;line-height:16px;color:#8e9bc5;font-weight:700;transform:scaleX(0.9697);">Wish</div>
<div class="t" style="left:358.46px;transform-origin:0 50%;top:1061.87px;font-size:13.33px;line-height:16px;color:#2d5a3d;font-weight:700;transform:scaleX(0.9698);">Makes</div>
<div class="t" style="left:411.20px;transform-origin:0 50%;top:1062.01px;font-size:12.64px;line-height:16px;color:#f8c7d3;font-weight:700;transform:scaleX(0.9698);">Employees</div>
<div class="t" style="left:363.49px;transform-origin:0 50%;top:1081.51px;font-size:12.61px;line-height:16px;color:#1a9de0;font-weight:700;transform:scaleX(0.9699);">Appreciate</div>
<div class="t" style="left:362.81px;transform-origin:0 50%;top:1101.21px;font-size:12.63px;line-height:16px;color:#b99bd8;font-weight:700;transform:scaleX(0.9703);">Good</div>
<div class="t" style="left:389.58px;transform-origin:0 50%;top:1140.45px;font-size:13.08px;line-height:16px;color:#0077a0;font-weight:700;transform:scaleX(0.9699);">Himthe</div>
<div class="t" style="left:-118.00px;width:600px;text-align:center;top:1011.00px;font-size:12.71px;line-height:15px;color:#14a53d;font-weight:700;transform:rotate(90deg) scaleX(0.9700) translateY(0.51px);transform-origin:50% 50%;">Complimenting</div>
<div class="t" style="left:-118.00px;width:600px;text-align:center;top:1076.35px;font-size:12.45px;line-height:15px;color:#a6dbc3;font-weight:700;transform:rotate(90deg) scaleX(0.9703) translateY(0.50px);transform-origin:50% 50%;">Giving</div>
<div class="t" style="left:-84.60px;width:600px;text-align:center;top:998.70px;font-size:12.05px;line-height:14px;color:#1a9de0;font-weight:700;transform:rotate(90deg) scaleX(0.9697) translateY(0.48px);transform-origin:50% 50%;">Boss</div>
<div class="t" style="left:-84.60px;width:600px;text-align:center;top:1063.60px;font-size:12.71px;line-height:15px;color:#ee3d8b;font-weight:700;transform:rotate(90deg) scaleX(0.9703) translateY(0.51px);transform-origin:50% 50%;">Compliments</div>
<div class="t" style="left:-52.00px;width:600px;text-align:center;top:984.85px;font-size:12.17px;line-height:15px;color:#f8c7d3;font-weight:700;transform:rotate(90deg) scaleX(0.9702) translateY(0.49px);transform-origin:50% 50%;">Dev</div>
<div class="t" style="left:-52.00px;width:600px;text-align:center;top:1010.15px;font-size:13.16px;line-height:16px;color:#3f2a7a;font-weight:700;transform:rotate(90deg) scaleX(0.9701) translateY(0.53px);transform-origin:50% 50%;">Help</div>
<div class="t" style="left:-150.00px;width:600px;text-align:center;top:1062.75px;font-size:13.16px;line-height:16px;color:#76c8ff;font-weight:700;transform:rotate(90deg) scaleX(0.9697) translateY(0.53px);transform-origin:50% 50%;">Helped</div>
<div class="t" style="left:-215.30px;width:600px;text-align:center;top:1063.80px;font-size:12.72px;line-height:15px;color:#8e9bc5;font-weight:700;transform:rotate(90deg) scaleX(0.9702) translateY(0.51px);transform-origin:50% 50%;">Formally</div>
<div class="t" style="left:-215.30px;width:600px;text-align:center;top:1116.35px;font-size:12.87px;line-height:15px;color:#1a5e5e;font-weight:700;transform:rotate(90deg) scaleX(0.9702) translateY(0.51px);transform-origin:50% 50%;">Position</div>
<div class="t" style="left:-183.30px;width:600px;text-align:center;top:1102.55px;font-size:12.63px;line-height:15px;color:#8246af;font-weight:700;transform:rotate(90deg) scaleX(0.9702) translateY(0.51px);transform-origin:50% 50%;">Relationships</div>
<div class="t" style="left:-248.60px;width:600px;text-align:center;top:1129.20px;font-size:12.34px;line-height:15px;color:#a6dbc3;font-weight:700;transform:rotate(90deg) scaleX(0.9702) translateY(0.49px);transform-origin:50% 50%;">Byways</div>
<div class="t" style="left:-151.20px;width:600px;text-align:center;top:1141.70px;font-size:12.52px;line-height:15px;color:#00968f;font-weight:700;transform:rotate(90deg) scaleX(0.9703) translateY(0.50px);transform-origin:50% 50%;">Ityour</div>
<div class="t" style="left:13.40px;width:600px;text-align:center;top:1011.20px;font-size:12.55px;line-height:15px;color:#1c4a6e;font-weight:700;transform:rotate(90deg) scaleX(0.9698) translateY(0.50px);transform-origin:50% 50%;">Friend</div>
<div class="t" style="left:46.70px;width:600px;text-align:center;top:1049.25px;font-size:14.07px;line-height:17px;color:#00968f;font-weight:700;transform:rotate(90deg) scaleX(0.9698) translateY(0.56px);transform-origin:50% 50%;">Professional</div>
<div class="t" style="left:78.70px;width:600px;text-align:center;top:1036.70px;font-size:13.23px;line-height:16px;color:#3b4a6b;font-weight:700;transform:rotate(90deg) scaleX(0.9702) translateY(0.53px);transform-origin:50% 50%;">Time</div>
<div class="t" style="left:112.00px;width:600px;text-align:center;top:1024.60px;font-size:12.7px;line-height:15px;color:#a5dba0;font-weight:700;transform:rotate(90deg) scaleX(0.9700) translateY(0.51px);transform-origin:50% 50%;">Boost</div>
<div class="t" style="left:144.50px;width:600px;text-align:center;top:1011.20px;font-size:12.66px;line-height:15px;color:#9fd8e8;font-weight:700;transform:rotate(90deg) scaleX(0.9701) translateY(0.51px);transform-origin:50% 50%;">Colleagues</div>
<div class="t" style="left:112.50px;width:600px;text-align:center;top:1115.50px;font-size:13.01px;line-height:16px;color:#002c77;font-weight:700;transform:rotate(90deg) scaleX(0.9701) translateY(0.52px);transform-origin:50% 50%;">Skill</div>
<div class="t" style="left:79.20px;width:600px;text-align:center;top:1128.30px;font-size:13.12px;line-height:16px;color:#b8135f;font-weight:700;transform:rotate(90deg) scaleX(0.9701) translateY(0.52px);transform-origin:50% 50%;">Feel</div>
<div class="t" style="left:144.50px;width:600px;text-align:center;top:1116.00px;font-size:12.66px;line-height:15px;color:#0077a0;font-weight:700;transform:rotate(90deg) scaleX(0.9700) translateY(0.51px);transform-origin:50% 50%;">Recipient</div>
<div class="t" style="left:210.70px;width:600px;text-align:center;top:985.05px;font-size:12.52px;line-height:15px;color:#ee3d8b;font-weight:700;transform:rotate(90deg) scaleX(0.9704) translateY(0.50px);transform-origin:50% 50%;">Builds</div>
<div class="t" style="left:178.20px;width:600px;text-align:center;top:997.95px;font-size:12.69px;line-height:15px;color:#1f5a35;font-weight:700;transform:rotate(90deg) scaleX(0.9701) translateY(0.51px);transform-origin:50% 50%;">Ability</div>
<div class="t" style="left:193.90px;width:600px;text-align:center;top:1043.70px;font-size:12.74px;line-height:15px;color:#b9d4ec;font-weight:700;transform:rotate(90deg) scaleX(0.9697) translateY(0.51px);transform-origin:50% 50%;">Allthis</div>
<div class="t" style="left:210.70px;width:600px;text-align:center;top:1115.60px;font-size:12.62px;line-height:15px;color:#3b4a6b;font-weight:700;transform:rotate(90deg) scaleX(0.9696) translateY(0.50px);transform-origin:50% 50%;">Understanding</div>
<div class="t" style="left:178.20px;width:600px;text-align:center;top:1128.50px;font-size:12.55px;line-height:15px;color:#b99bd8;font-weight:700;transform:rotate(90deg) scaleX(0.9702) translateY(0.50px);transform-origin:50% 50%;">Workplace</div>
<div class="t" style="left:564.82px;transform-origin:0 50%;top:927.83px;font-size:9.1px;line-height:11px;color:#1d2d52;font-weight:400;transform:scaleX(1.0037);-webkit-text-stroke:0.32px #1d2d52;">Top Positive Words</div>
<div class="b" style="left:561.00px;top:949.00px;width:505.00px;height:18.00px;background:#f6f8fb;"></div>
<div class="t" style="left:578.50px;transform-origin:0 50%;top:952.96px;font-size:8.2px;line-height:10px;color:#8a93a6;font-weight:400;transform:scaleX(0.9767);">Word</div>
<div class="t" style="right:46.00px;transform-origin:100% 50%;top:952.96px;font-size:8.2px;line-height:10px;color:#8a93a6;font-weight:400;transform:scaleX(0.9452);">Frequency</div>
<div class="t" style="left:578.05px;transform-origin:0 50%;top:977.66px;font-size:8.3px;line-height:10px;color:#2a3a5e;font-weight:400;transform:scaleX(0.9763);">Praise</div>
<div class="t" style="right:46.00px;transform-origin:100% 50%;top:977.62px;font-size:7.7px;line-height:10px;color:#2a3a5e;font-weight:400;transform:scaleX(1.0000);">13</div>
<div class="t" style="left:578.29px;transform-origin:0 50%;top:1008.66px;font-size:8.3px;line-height:10px;color:#2a3a5e;font-weight:400;transform:scaleX(0.9812);">Compliment</div>
<div class="t" style="right:46.00px;transform-origin:100% 50%;top:1008.62px;font-size:7.7px;line-height:10px;color:#2a3a5e;font-weight:400;transform:scaleX(1.0000);">5</div>
<div class="t" style="left:578.29px;transform-origin:0 50%;top:1039.66px;font-size:8.3px;line-height:10px;color:#2a3a5e;font-weight:400;transform:scaleX(0.9848);">Compliments</div>
<div class="t" style="right:46.00px;transform-origin:100% 50%;top:1039.62px;font-size:7.7px;line-height:10px;color:#2a3a5e;font-weight:400;transform:scaleX(1.0000);">5</div>
<div class="b" style="left:561.00px;top:997.10px;width:505.00px;height:0.00px;border-top:1px dashed #e9ebf0;"></div>
<div class="b" style="left:561.00px;top:1028.10px;width:505.00px;height:0.00px;border-top:1px dashed #e9ebf0;"></div>
<div class="b" style="left:556.00px;top:1078.10px;width:515.00px;height:0.80px;background:#e6e9ef;"></div>
<div class="t" style="left:564.82px;transform-origin:0 50%;top:1089.23px;font-size:9.1px;line-height:11px;color:#1d2d52;font-weight:400;transform:scaleX(0.9968);-webkit-text-stroke:0.32px #1d2d52;">Top Negative Words</div>
<div class="b" style="left:561.00px;top:1110.00px;width:505.00px;height:18.50px;background:#f6f8fb;"></div>
<div class="t" style="left:578.50px;transform-origin:0 50%;top:1113.96px;font-size:8.2px;line-height:10px;color:#8a93a6;font-weight:400;transform:scaleX(0.9767);">Word</div>
<div class="t" style="right:46.00px;transform-origin:100% 50%;top:1113.96px;font-size:8.2px;line-height:10px;color:#8a93a6;font-weight:400;transform:scaleX(0.9452);">Frequency</div>
<div class="t" style="left:578.02px;transform-origin:0 50%;top:1138.66px;font-size:8.3px;line-height:10px;color:#2a3a5e;font-weight:400;transform:scaleX(1.0285);">Bad</div>
<div class="t" style="right:46.00px;transform-origin:100% 50%;top:1138.62px;font-size:7.7px;line-height:10px;color:#2a3a5e;font-weight:400;transform:scaleX(1.0000);">1</div>
<div class="b" style="left:13.10px;top:1196.00px;width:1068.00px;height:838.20px;background:#fff;border:1px solid #e5e8ee;border-radius:2px;box-sizing:border-box;"></div>
<div class="t" style="left:22.29px;transform-origin:0 50%;top:1211.23px;font-size:9.1px;line-height:11px;color:#1d2d52;font-weight:400;transform:scaleX(0.9812);-webkit-text-stroke:0.2px #1d2d52;">Role Wise Group Mean Score</div>
<div class="b" style="left:885.10px;top:1205.50px;width:186.10px;height:20.70px;background:#f2f4f9;border-radius:2px;"></div>
<svg width="1094" height="2048" viewBox="0 0 1094 2048"><circle cx="897" cy="1216.3" r="2.75" fill="#002c77"/></svg>
<div class="t" style="left:903.64px;transform-origin:0 50%;top:1210.96px;font-size:8.3px;line-height:10px;color:#3b4a6b;font-weight:400;transform:scaleX(0.9646);">Overall</div>
<svg width="1094" height="2048" viewBox="0 0 1094 2048"><circle cx="940" cy="1216.3" r="2.75" fill="#00968f"/></svg>
<div class="t" style="left:946.86px;transform-origin:0 50%;top:1210.96px;font-size:8.3px;line-height:10px;color:#3b4a6b;font-weight:400;transform:scaleX(0.9643);">Direct Report</div>
<svg width="1094" height="2048" viewBox="0 0 1094 2048"><circle cx="1006" cy="1216.3" r="2.75" fill="#0077a0"/></svg>
<div class="t" style="left:1012.35px;transform-origin:0 50%;top:1210.96px;font-size:8.3px;line-height:10px;color:#3b4a6b;font-weight:400;transform:scaleX(0.9841);">Peer</div>
<svg width="1094" height="2048" viewBox="0 0 1094 2048"><circle cx="1041.5" cy="1216.3" r="2.75" fill="#ee3d8b"/></svg>
<div class="t" style="left:1048.14px;transform-origin:0 50%;top:1210.96px;font-size:8.3px;line-height:10px;color:#3b4a6b;font-weight:400;transform:scaleX(0.9682);">Self</div>
<svg width="1094" height="2048" viewBox="0 0 1094 2048"><rect x="85.50" y="1395.95" width="225.50" height="1" fill="#e9e9ec"/><rect x="85.50" y="1371.85" width="225.50" height="1" fill="#e9e9ec"/><rect x="85.50" y="1347.75" width="225.50" height="1" fill="#e9e9ec"/><rect x="85.50" y="1323.65" width="225.50" height="1" fill="#e9e9ec"/><rect x="85.50" y="1299.55" width="225.50" height="1" fill="#e9e9ec"/><rect x="85.50" y="1275.45" width="225.50" height="1" fill="#e9e9ec"/><rect x="85.10" y="1275.95" width="0.8" height="120.50" fill="#e2e2e6"/><rect x="109.40" y="1310.49" width="11.2" height="85.96" fill="#002c77"/><rect x="164.90" y="1275.95" width="11.2" height="120.50" fill="#00968f"/><rect x="220.40" y="1315.31" width="11.2" height="81.14" fill="#0077a0"/><rect x="275.90" y="1310.49" width="11.2" height="85.96" fill="#ee3d8b"/><rect x="440.50" y="1395.95" width="225.50" height="1" fill="#e9e9ec"/><rect x="440.50" y="1371.85" width="225.50" height="1" fill="#e9e9ec"/><rect x="440.50" y="1347.75" width="225.50" height="1" fill="#e9e9ec"/><rect x="440.50" y="1323.65" width="225.50" height="1" fill="#e9e9ec"/><rect x="440.50" y="1299.55" width="225.50" height="1" fill="#e9e9ec"/><rect x="440.50" y="1275.45" width="225.50" height="1" fill="#e9e9ec"/><rect x="440.10" y="1275.95" width="0.8" height="120.50" fill="#e2e2e6"/><rect x="464.40" y="1327.36" width="11.2" height="69.09" fill="#002c77"/><rect x="519.90" y="1373.15" width="11.2" height="23.30" fill="#00968f"/><rect x="575.40" y="1339.41" width="11.2" height="57.04" fill="#0077a0"/><rect x="630.90" y="1308.08" width="11.2" height="88.37" fill="#ee3d8b"/><rect x="795.50" y="1395.95" width="225.50" height="1" fill="#e9e9ec"/><rect x="795.50" y="1371.85" width="225.50" height="1" fill="#e9e9ec"/><rect x="795.50" y="1347.75" width="225.50" height="1" fill="#e9e9ec"/><rect x="795.50" y="1323.65" width="225.50" height="1" fill="#e9e9ec"/><rect x="795.50" y="1299.55" width="225.50" height="1" fill="#e9e9ec"/><rect x="795.50" y="1275.45" width="225.50" height="1" fill="#e9e9ec"/><rect x="795.10" y="1275.95" width="0.8" height="120.50" fill="#e2e2e6"/><rect x="819.40" y="1320.13" width="11.2" height="76.32" fill="#002c77"/><rect x="930.40" y="1322.54" width="11.2" height="73.91" fill="#0077a0"/><rect x="985.90" y="1317.72" width="11.2" height="78.73" fill="#ee3d8b"/><rect x="85.50" y="1595.52" width="225.50" height="1" fill="#e9e9ec"/><rect x="85.50" y="1571.38" width="225.50" height="1" fill="#e9e9ec"/><rect x="85.50" y="1547.23" width="225.50" height="1" fill="#e9e9ec"/><rect x="85.50" y="1523.09" width="225.50" height="1" fill="#e9e9ec"/><rect x="85.50" y="1498.94" width="225.50" height="1" fill="#e9e9ec"/><rect x="85.50" y="1474.80" width="225.50" height="1" fill="#e9e9ec"/><rect x="85.10" y="1475.30" width="0.8" height="120.72" fill="#e2e2e6"/><rect x="109.40" y="1517.14" width="11.2" height="78.88" fill="#002c77"/><rect x="164.90" y="1572.68" width="11.2" height="23.34" fill="#00968f"/><rect x="220.40" y="1507.49" width="11.2" height="88.53" fill="#0077a0"/><rect x="275.90" y="1509.90" width="11.2" height="86.12" fill="#ee3d8b"/><rect x="440.50" y="1595.52" width="225.50" height="1" fill="#e9e9ec"/><rect x="440.50" y="1571.38" width="225.50" height="1" fill="#e9e9ec"/><rect x="440.50" y="1547.23" width="225.50" height="1" fill="#e9e9ec"/><rect x="440.50" y="1523.09" width="225.50" height="1" fill="#e9e9ec"/><rect x="440.50" y="1498.94" width="225.50" height="1" fill="#e9e9ec"/><rect x="440.50" y="1474.80" width="225.50" height="1" fill="#e9e9ec"/><rect x="440.10" y="1475.30" width="0.8" height="120.72" fill="#e2e2e6"/><rect x="464.40" y="1519.56" width="11.2" height="76.46" fill="#002c77"/><rect x="519.90" y="1500.24" width="11.2" height="95.78" fill="#00968f"/><rect x="575.40" y="1531.63" width="11.2" height="64.39" fill="#0077a0"/><rect x="630.90" y="1512.32" width="11.2" height="83.70" fill="#ee3d8b"/><rect x="795.50" y="1595.52" width="225.50" height="1" fill="#e9e9ec"/><rect x="795.50" y="1571.38" width="225.50" height="1" fill="#e9e9ec"/><rect x="795.50" y="1547.23" width="225.50" height="1" fill="#e9e9ec"/><rect x="795.50" y="1523.09" width="225.50" height="1" fill="#e9e9ec"/><rect x="795.50" y="1498.94" width="225.50" height="1" fill="#e9e9ec"/><rect x="795.50" y="1474.80" width="225.50" height="1" fill="#e9e9ec"/><rect x="795.10" y="1475.30" width="0.8" height="120.72" fill="#e2e2e6"/><rect x="819.40" y="1514.73" width="11.2" height="81.29" fill="#002c77"/><rect x="874.90" y="1475.30" width="11.2" height="120.72" fill="#00968f"/><rect x="930.40" y="1529.22" width="11.2" height="66.80" fill="#0077a0"/><rect x="985.90" y="1505.07" width="11.2" height="90.95" fill="#ee3d8b"/><rect x="85.50" y="1795.09" width="225.50" height="1" fill="#e9e9ec"/><rect x="85.50" y="1770.90" width="225.50" height="1" fill="#e9e9ec"/><rect x="85.50" y="1746.71" width="225.50" height="1" fill="#e9e9ec"/><rect x="85.50" y="1722.53" width="225.50" height="1" fill="#e9e9ec"/><rect x="85.50" y="1698.34" width="225.50" height="1" fill="#e9e9ec"/><rect x="85.50" y="1674.15" width="225.50" height="1" fill="#e9e9ec"/><rect x="85.10" y="1674.65" width="0.8" height="120.94" fill="#e2e2e6"/><rect x="109.40" y="1728.66" width="11.2" height="66.93" fill="#002c77"/><rect x="220.40" y="1731.08" width="11.2" height="64.51" fill="#0077a0"/><rect x="275.90" y="1728.66" width="11.2" height="66.93" fill="#ee3d8b"/><rect x="440.50" y="1795.09" width="225.50" height="1" fill="#e9e9ec"/><rect x="440.50" y="1770.90" width="225.50" height="1" fill="#e9e9ec"/><rect x="440.50" y="1746.71" width="225.50" height="1" fill="#e9e9ec"/><rect x="440.50" y="1722.53" width="225.50" height="1" fill="#e9e9ec"/><rect x="440.50" y="1698.34" width="225.50" height="1" fill="#e9e9ec"/><rect x="440.50" y="1674.15" width="225.50" height="1" fill="#e9e9ec"/><rect x="440.10" y="1674.65" width="0.8" height="120.94" fill="#e2e2e6"/><rect x="464.40" y="1716.57" width="11.2" height="79.02" fill="#002c77"/><rect x="519.90" y="1760.11" width="11.2" height="35.48" fill="#00968f"/><rect x="575.40" y="1704.48" width="11.2" height="91.11" fill="#0077a0"/><rect x="630.90" y="1716.57" width="11.2" height="79.02" fill="#ee3d8b"/><rect x="795.50" y="1795.09" width="225.50" height="1" fill="#e9e9ec"/><rect x="795.50" y="1770.90" width="225.50" height="1" fill="#e9e9ec"/><rect x="795.50" y="1746.71" width="225.50" height="1" fill="#e9e9ec"/><rect x="795.50" y="1722.53" width="225.50" height="1" fill="#e9e9ec"/><rect x="795.50" y="1698.34" width="225.50" height="1" fill="#e9e9ec"/><rect x="795.50" y="1674.15" width="225.50" height="1" fill="#e9e9ec"/><rect x="795.10" y="1674.65" width="0.8" height="120.94" fill="#e2e2e6"/><rect x="819.40" y="1726.24" width="11.2" height="69.35" fill="#002c77"/><rect x="874.90" y="1772.20" width="11.2" height="23.39" fill="#00968f"/><rect x="930.40" y="1716.57" width="11.2" height="79.02" fill="#0077a0"/><rect x="985.90" y="1723.83" width="11.2" height="71.76" fill="#ee3d8b"/><rect x="85.50" y="1994.66" width="225.50" height="1" fill="#e9e9ec"/><rect x="85.50" y="1970.43" width="225.50" height="1" fill="#e9e9ec"/><rect x="85.50" y="1946.20" width="225.50" height="1" fill="#e9e9ec"/><rect x="85.50" y="1921.96" width="225.50" height="1" fill="#e9e9ec"/><rect x="85.50" y="1897.73" width="225.50" height="1" fill="#e9e9ec"/><rect x="85.50" y="1873.50" width="225.50" height="1" fill="#e9e9ec"/><rect x="85.10" y="1874.00" width="0.8" height="121.16" fill="#e2e2e6"/><rect x="109.40" y="1923.26" width="11.2" height="71.90" fill="#002c77"/><rect x="164.90" y="1915.99" width="11.2" height="79.17" fill="#00968f"/><rect x="220.40" y="1918.42" width="11.2" height="76.74" fill="#0077a0"/><rect x="275.90" y="1928.11" width="11.2" height="67.05" fill="#ee3d8b"/></svg>
<div class="t" style="left:-425.00px;width:1000px;text-align:center;transform-origin:50% 50%;top:1393.56px;font-size:6.4px;line-height:8px;color:#666;font-weight:400;transform:scaleX(1.0000);">0</div>
<div class="t" style="left:-425.00px;width:1000px;text-align:center;transform-origin:50% 50%;top:1369.46px;font-size:6.4px;line-height:8px;color:#666;font-weight:400;transform:scaleX(1.0000);">1</div>
<div class="t" style="left:-425.00px;width:1000px;text-align:center;transform-origin:50% 50%;top:1345.36px;font-size:6.4px;line-height:8px;color:#666;font-weight:400;transform:scaleX(1.0000);">2</div>
<div class="t" style="left:-425.00px;width:1000px;text-align:center;transform-origin:50% 50%;top:1321.26px;font-size:6.4px;line-height:8px;color:#666;font-weight:400;transform:scaleX(1.0000);">3</div>
<div class="t" style="left:-425.00px;width:1000px;text-align:center;transform-origin:50% 50%;top:1297.16px;font-size:6.4px;line-height:8px;color:#666;font-weight:400;transform:scaleX(1.0000);">4</div>
<div class="t" style="left:-425.00px;width:1000px;text-align:center;transform-origin:50% 50%;top:1273.06px;font-size:6.4px;line-height:8px;color:#666;font-weight:400;transform:scaleX(1.0000);">5</div>
<div class="t" style="left:-307.50px;width:1000px;text-align:center;transform-origin:50% 50%;top:1252.00px;font-size:6.9px;line-height:9px;color:#1c2b4a;font-weight:700;transform:scaleX(0.9400);">Change Management</div>
<div class="t" style="left:-385.00px;width:1000px;text-align:center;transform-origin:50% 50%;top:1300.82px;font-size:6.6px;line-height:8px;color:#222;font-weight:700;transform:scaleX(1.0400);">3.6</div>
<div class="t" style="left:-329.50px;width:1000px;text-align:center;transform-origin:50% 50%;top:1279.27px;font-size:6.5px;line-height:8px;color:#fff;font-weight:700;transform:scaleX(1.0000);text-shadow:0 0 1px #123,0 0 1px #123;">5</div>
<div class="t" style="left:-274.00px;width:1000px;text-align:center;transform-origin:50% 50%;top:1305.64px;font-size:6.6px;line-height:8px;color:#222;font-weight:700;transform:scaleX(1.0400);">3.4</div>
<div class="t" style="left:-218.50px;width:1000px;text-align:center;transform-origin:50% 50%;top:1300.82px;font-size:6.6px;line-height:8px;color:#222;font-weight:700;transform:scaleX(1.0400);">3.6</div>
<div class="t" style="left:-70.00px;width:1000px;text-align:center;transform-origin:50% 50%;top:1393.56px;font-size:6.4px;line-height:8px;color:#666;font-weight:400;transform:scaleX(1.0000);">0</div>
<div class="t" style="left:-70.00px;width:1000px;text-align:center;transform-origin:50% 50%;top:1369.46px;font-size:6.4px;line-height:8px;color:#666;font-weight:400;transform:scaleX(1.0000);">1</div>
<div class="t" style="left:-70.00px;width:1000px;text-align:center;transform-origin:50% 50%;top:1345.36px;font-size:6.4px;line-height:8px;color:#666;font-weight:400;transform:scaleX(1.0000);">2</div>
<div class="t" style="left:-70.00px;width:1000px;text-align:center;transform-origin:50% 50%;top:1321.26px;font-size:6.4px;line-height:8px;color:#666;font-weight:400;transform:scaleX(1.0000);">3</div>
<div class="t" style="left:-70.00px;width:1000px;text-align:center;transform-origin:50% 50%;top:1297.16px;font-size:6.4px;line-height:8px;color:#666;font-weight:400;transform:scaleX(1.0000);">4</div>
<div class="t" style="left:-70.00px;width:1000px;text-align:center;transform-origin:50% 50%;top:1273.06px;font-size:6.4px;line-height:8px;color:#666;font-weight:400;transform:scaleX(1.0000);">5</div>
<div class="t" style="left:47.50px;width:1000px;text-align:center;transform-origin:50% 50%;top:1252.00px;font-size:6.9px;line-height:9px;color:#1c2b4a;font-weight:700;transform:scaleX(0.9400);">Critical Decision Making</div>
<div class="t" style="left:-30.00px;width:1000px;text-align:center;transform-origin:50% 50%;top:1317.69px;font-size:6.6px;line-height:8px;color:#222;font-weight:700;transform:scaleX(1.0400);">2.9</div>
<div class="t" style="left:25.50px;width:1000px;text-align:center;transform-origin:50% 50%;top:1363.48px;font-size:6.6px;line-height:8px;color:#222;font-weight:700;transform:scaleX(1.0400);">1</div>
<div class="t" style="left:81.00px;width:1000px;text-align:center;transform-origin:50% 50%;top:1329.74px;font-size:6.6px;line-height:8px;color:#222;font-weight:700;transform:scaleX(1.0400);">2.4</div>
<div class="t" style="left:136.50px;width:1000px;text-align:center;transform-origin:50% 50%;top:1298.41px;font-size:6.6px;line-height:8px;color:#222;font-weight:700;transform:scaleX(1.0400);">3.7</div>
<div class="t" style="left:285.00px;width:1000px;text-align:center;transform-origin:50% 50%;top:1393.56px;font-size:6.4px;line-height:8px;color:#666;font-weight:400;transform:scaleX(1.0000);">0</div>
<div class="t" style="left:285.00px;width:1000px;text-align:center;transform-origin:50% 50%;top:1369.46px;font-size:6.4px;line-height:8px;color:#666;font-weight:400;transform:scaleX(1.0000);">1</div>
<div class="t" style="left:285.00px;width:1000px;text-align:center;transform-origin:50% 50%;top:1345.36px;font-size:6.4px;line-height:8px;color:#666;font-weight:400;transform:scaleX(1.0000);">2</div>
<div class="t" style="left:285.00px;width:1000px;text-align:center;transform-origin:50% 50%;top:1321.26px;font-size:6.4px;line-height:8px;color:#666;font-weight:400;transform:scaleX(1.0000);">3</div>
<div class="t" style="left:285.00px;width:1000px;text-align:center;transform-origin:50% 50%;top:1297.16px;font-size:6.4px;line-height:8px;color:#666;font-weight:400;transform:scaleX(1.0000);">4</div>
<div class="t" style="left:285.00px;width:1000px;text-align:center;transform-origin:50% 50%;top:1273.06px;font-size:6.4px;line-height:8px;color:#666;font-weight:400;transform:scaleX(1.0000);">5</div>
<div class="t" style="left:402.50px;width:1000px;text-align:center;transform-origin:50% 50%;top:1252.00px;font-size:6.9px;line-height:9px;color:#1c2b4a;font-weight:700;transform:scaleX(0.9400);">Developing Team</div>
<div class="t" style="left:325.00px;width:1000px;text-align:center;transform-origin:50% 50%;top:1310.46px;font-size:6.6px;line-height:8px;color:#222;font-weight:700;transform:scaleX(1.0400);">3.2</div>
<div class="t" style="left:380.50px;width:1000px;text-align:center;transform-origin:50% 50%;top:1387.15px;font-size:6.3px;line-height:8px;color:#222;font-weight:700;transform:scaleX(0.9500);">NA</div>
<div class="t" style="left:436.00px;width:1000px;text-align:center;transform-origin:50% 50%;top:1312.87px;font-size:6.6px;line-height:8px;color:#222;font-weight:700;transform:scaleX(1.0400);">3.1</div>
<div class="t" style="left:491.50px;width:1000px;text-align:center;transform-origin:50% 50%;top:1308.05px;font-size:6.6px;line-height:8px;color:#222;font-weight:700;transform:scaleX(1.0400);">3.3</div>
<div class="t" style="left:-425.00px;width:1000px;text-align:center;transform-origin:50% 50%;top:1593.13px;font-size:6.4px;line-height:8px;color:#666;font-weight:400;transform:scaleX(1.0000);">0</div>
<div class="t" style="left:-425.00px;width:1000px;text-align:center;transform-origin:50% 50%;top:1568.99px;font-size:6.4px;line-height:8px;color:#666;font-weight:400;transform:scaleX(1.0000);">1</div>
<div class="t" style="left:-425.00px;width:1000px;text-align:center;transform-origin:50% 50%;top:1544.84px;font-size:6.4px;line-height:8px;color:#666;font-weight:400;transform:scaleX(1.0000);">2</div>
<div class="t" style="left:-425.00px;width:1000px;text-align:center;transform-origin:50% 50%;top:1520.70px;font-size:6.4px;line-height:8px;color:#666;font-weight:400;transform:scaleX(1.0000);">3</div>
<div class="t" style="left:-425.00px;width:1000px;text-align:center;transform-origin:50% 50%;top:1496.56px;font-size:6.4px;line-height:8px;color:#666;font-weight:400;transform:scaleX(1.0000);">4</div>
<div class="t" style="left:-425.00px;width:1000px;text-align:center;transform-origin:50% 50%;top:1472.41px;font-size:6.4px;line-height:8px;color:#666;font-weight:400;transform:scaleX(1.0000);">5</div>
<div class="t" style="left:-307.50px;width:1000px;text-align:center;transform-origin:50% 50%;top:1451.35px;font-size:6.9px;line-height:9px;color:#1c2b4a;font-weight:700;transform:scaleX(0.9400);">Fostering Diversity and Collaboration</div>
<div class="t" style="left:-385.00px;width:1000px;text-align:center;transform-origin:50% 50%;top:1507.47px;font-size:6.6px;line-height:8px;color:#222;font-weight:700;transform:scaleX(1.0400);">3.3</div>
<div class="t" style="left:-329.50px;width:1000px;text-align:center;transform-origin:50% 50%;top:1563.00px;font-size:6.6px;line-height:8px;color:#222;font-weight:700;transform:scaleX(1.0400);">1</div>
<div class="t" style="left:-274.00px;width:1000px;text-align:center;transform-origin:50% 50%;top:1497.82px;font-size:6.6px;line-height:8px;color:#222;font-weight:700;transform:scaleX(1.0400);">3.7</div>
<div class="t" style="left:-218.50px;width:1000px;text-align:center;transform-origin:50% 50%;top:1500.23px;font-size:6.6px;line-height:8px;color:#222;font-weight:700;transform:scaleX(1.0400);">3.6</div>
<div class="t" style="left:-70.00px;width:1000px;text-align:center;transform-origin:50% 50%;top:1593.13px;font-size:6.4px;line-height:8px;color:#666;font-weight:400;transform:scaleX(1.0000);">0</div>
<div class="t" style="left:-70.00px;width:1000px;text-align:center;transform-origin:50% 50%;top:1568.99px;font-size:6.4px;line-height:8px;color:#666;font-weight:400;transform:scaleX(1.0000);">1</div>
<div class="t" style="left:-70.00px;width:1000px;text-align:center;transform-origin:50% 50%;top:1544.84px;font-size:6.4px;line-height:8px;color:#666;font-weight:400;transform:scaleX(1.0000);">2</div>
<div class="t" style="left:-70.00px;width:1000px;text-align:center;transform-origin:50% 50%;top:1520.70px;font-size:6.4px;line-height:8px;color:#666;font-weight:400;transform:scaleX(1.0000);">3</div>
<div class="t" style="left:-70.00px;width:1000px;text-align:center;transform-origin:50% 50%;top:1496.56px;font-size:6.4px;line-height:8px;color:#666;font-weight:400;transform:scaleX(1.0000);">4</div>
<div class="t" style="left:-70.00px;width:1000px;text-align:center;transform-origin:50% 50%;top:1472.41px;font-size:6.4px;line-height:8px;color:#666;font-weight:400;transform:scaleX(1.0000);">5</div>
<div class="t" style="left:47.50px;width:1000px;text-align:center;transform-origin:50% 50%;top:1451.35px;font-size:6.9px;line-height:9px;color:#1c2b4a;font-weight:700;transform:scaleX(0.9400);">Fostering Innovation</div>
<div class="t" style="left:-30.00px;width:1000px;text-align:center;transform-origin:50% 50%;top:1509.89px;font-size:6.6px;line-height:8px;color:#222;font-weight:700;transform:scaleX(1.0400);">3.2</div>
<div class="t" style="left:25.50px;width:1000px;text-align:center;transform-origin:50% 50%;top:1490.57px;font-size:6.6px;line-height:8px;color:#222;font-weight:700;transform:scaleX(1.0400);">4</div>
<div class="t" style="left:81.00px;width:1000px;text-align:center;transform-origin:50% 50%;top:1521.96px;font-size:6.6px;line-height:8px;color:#222;font-weight:700;transform:scaleX(1.0400);">2.7</div>
<div class="t" style="left:136.50px;width:1000px;text-align:center;transform-origin:50% 50%;top:1502.64px;font-size:6.6px;line-height:8px;color:#222;font-weight:700;transform:scaleX(1.0400);">3.5</div>
<div class="t" style="left:285.00px;width:1000px;text-align:center;transform-origin:50% 50%;top:1593.13px;font-size:6.4px;line-height:8px;color:#666;font-weight:400;transform:scaleX(1.0000);">0</div>
<div class="t" style="left:285.00px;width:1000px;text-align:center;transform-origin:50% 50%;top:1568.99px;font-size:6.4px;line-height:8px;color:#666;font-weight:400;transform:scaleX(1.0000);">1</div>
<div class="t" style="left:285.00px;width:1000px;text-align:center;transform-origin:50% 50%;top:1544.84px;font-size:6.4px;line-height:8px;color:#666;font-weight:400;transform:scaleX(1.0000);">2</div>
<div class="t" style="left:285.00px;width:1000px;text-align:center;transform-origin:50% 50%;top:1520.70px;font-size:6.4px;line-height:8px;color:#666;font-weight:400;transform:scaleX(1.0000);">3</div>
<div class="t" style="left:285.00px;width:1000px;text-align:center;transform-origin:50% 50%;top:1496.56px;font-size:6.4px;line-height:8px;color:#666;font-weight:400;transform:scaleX(1.0000);">4</div>
<div class="t" style="left:285.00px;width:1000px;text-align:center;transform-origin:50% 50%;top:1472.41px;font-size:6.4px;line-height:8px;color:#666;font-weight:400;transform:scaleX(1.0000);">5</div>
<div class="t" style="left:402.50px;width:1000px;text-align:center;transform-origin:50% 50%;top:1451.35px;font-size:6.9px;line-height:9px;color:#1c2b4a;font-weight:700;transform:scaleX(0.9400);">Learning Orientation</div>
<div class="t" style="left:325.00px;width:1000px;text-align:center;transform-origin:50% 50%;top:1505.06px;font-size:6.6px;line-height:8px;color:#222;font-weight:700;transform:scaleX(1.0400);">3.4</div>
<div class="t" style="left:380.50px;width:1000px;text-align:center;transform-origin:50% 50%;top:1478.62px;font-size:6.5px;line-height:8px;color:#fff;font-weight:700;transform:scaleX(1.0000);text-shadow:0 0 1px #123,0 0 1px #123;">5</div>
<div class="t" style="left:436.00px;width:1000px;text-align:center;transform-origin:50% 50%;top:1519.54px;font-size:6.6px;line-height:8px;color:#222;font-weight:700;transform:scaleX(1.0400);">2.8</div>
<div class="t" style="left:491.50px;width:1000px;text-align:center;transform-origin:50% 50%;top:1495.40px;font-size:6.6px;line-height:8px;color:#222;font-weight:700;transform:scaleX(1.0400);">3.8</div>
<div class="t" style="left:-425.00px;width:1000px;text-align:center;transform-origin:50% 50%;top:1792.70px;font-size:6.4px;line-height:8px;color:#666;font-weight:400;transform:scaleX(1.0000);">0</div>
<div class="t" style="left:-425.00px;width:1000px;text-align:center;transform-origin:50% 50%;top:1768.51px;font-size:6.4px;line-height:8px;color:#666;font-weight:400;transform:scaleX(1.0000);">1</div>
<div class="t" style="left:-425.00px;width:1000px;text-align:center;transform-origin:50% 50%;top:1744.33px;font-size:6.4px;line-height:8px;color:#666;font-weight:400;transform:scaleX(1.0000);">2</div>
<div class="t" style="left:-425.00px;width:1000px;text-align:center;transform-origin:50% 50%;top:1720.14px;font-size:6.4px;line-height:8px;color:#666;font-weight:400;transform:scaleX(1.0000);">3</div>
<div class="t" style="left:-425.00px;width:1000px;text-align:center;transform-origin:50% 50%;top:1695.95px;font-size:6.4px;line-height:8px;color:#666;font-weight:400;transform:scaleX(1.0000);">4</div>
<div class="t" style="left:-425.00px;width:1000px;text-align:center;transform-origin:50% 50%;top:1671.76px;font-size:6.4px;line-height:8px;color:#666;font-weight:400;transform:scaleX(1.0000);">5</div>
<div class="t" style="left:-307.50px;width:1000px;text-align:center;transform-origin:50% 50%;top:1650.70px;font-size:6.9px;line-height:9px;color:#1c2b4a;font-weight:700;transform:scaleX(0.9400);">Leveraging Networks</div>
<div class="t" style="left:-385.00px;width:1000px;text-align:center;transform-origin:50% 50%;top:1718.99px;font-size:6.6px;line-height:8px;color:#222;font-weight:700;transform:scaleX(1.0400);">2.8</div>
<div class="t" style="left:-329.50px;width:1000px;text-align:center;transform-origin:50% 50%;top:1786.29px;font-size:6.3px;line-height:8px;color:#222;font-weight:700;transform:scaleX(0.9500);">NA</div>
<div class="t" style="left:-274.00px;width:1000px;text-align:center;transform-origin:50% 50%;top:1721.41px;font-size:6.6px;line-height:8px;color:#222;font-weight:700;transform:scaleX(1.0400);">2.7</div>
<div class="t" style="left:-218.50px;width:1000px;text-align:center;transform-origin:50% 50%;top:1718.99px;font-size:6.6px;line-height:8px;color:#222;font-weight:700;transform:scaleX(1.0400);">2.8</div>
<div class="t" style="left:-70.00px;width:1000px;text-align:center;transform-origin:50% 50%;top:1792.70px;font-size:6.4px;line-height:8px;color:#666;font-weight:400;transform:scaleX(1.0000);">0</div>
<div class="t" style="left:-70.00px;width:1000px;text-align:center;transform-origin:50% 50%;top:1768.51px;font-size:6.4px;line-height:8px;color:#666;font-weight:400;transform:scaleX(1.0000);">1</div>
<div class="t" style="left:-70.00px;width:1000px;text-align:center;transform-origin:50% 50%;top:1744.33px;font-size:6.4px;line-height:8px;color:#666;font-weight:400;transform:scaleX(1.0000);">2</div>
<div class="t" style="left:-70.00px;width:1000px;text-align:center;transform-origin:50% 50%;top:1720.14px;font-size:6.4px;line-height:8px;color:#666;font-weight:400;transform:scaleX(1.0000);">3</div>
<div class="t" style="left:-70.00px;width:1000px;text-align:center;transform-origin:50% 50%;top:1695.95px;font-size:6.4px;line-height:8px;color:#666;font-weight:400;transform:scaleX(1.0000);">4</div>
<div class="t" style="left:-70.00px;width:1000px;text-align:center;transform-origin:50% 50%;top:1671.76px;font-size:6.4px;line-height:8px;color:#666;font-weight:400;transform:scaleX(1.0000);">5</div>
<div class="t" style="left:47.50px;width:1000px;text-align:center;transform-origin:50% 50%;top:1650.70px;font-size:6.9px;line-height:9px;color:#1c2b4a;font-weight:700;transform:scaleX(0.9400);">Navigating Ambiguity</div>
<div class="t" style="left:-30.00px;width:1000px;text-align:center;transform-origin:50% 50%;top:1706.90px;font-size:6.6px;line-height:8px;color:#222;font-weight:700;transform:scaleX(1.0400);">3.3</div>
<div class="t" style="left:25.50px;width:1000px;text-align:center;transform-origin:50% 50%;top:1750.44px;font-size:6.6px;line-height:8px;color:#222;font-weight:700;transform:scaleX(1.0400);">1.5</div>
<div class="t" style="left:81.00px;width:1000px;text-align:center;transform-origin:50% 50%;top:1694.80px;font-size:6.6px;line-height:8px;color:#222;font-weight:700;transform:scaleX(1.0400);">3.8</div>
<div class="t" style="left:136.50px;width:1000px;text-align:center;transform-origin:50% 50%;top:1706.90px;font-size:6.6px;line-height:8px;color:#222;font-weight:700;transform:scaleX(1.0400);">3.3</div>
<div class="t" style="left:285.00px;width:1000px;text-align:center;transform-origin:50% 50%;top:1792.70px;font-size:6.4px;line-height:8px;color:#666;font-weight:400;transform:scaleX(1.0000);">0</div>
<div class="t" style="left:285.00px;width:1000px;text-align:center;transform-origin:50% 50%;top:1768.51px;font-size:6.4px;line-height:8px;color:#666;font-weight:400;transform:scaleX(1.0000);">1</div>
<div class="t" style="left:285.00px;width:1000px;text-align:center;transform-origin:50% 50%;top:1744.33px;font-size:6.4px;line-height:8px;color:#666;font-weight:400;transform:scaleX(1.0000);">2</div>
<div class="t" style="left:285.00px;width:1000px;text-align:center;transform-origin:50% 50%;top:1720.14px;font-size:6.4px;line-height:8px;color:#666;font-weight:400;transform:scaleX(1.0000);">3</div>
<div class="t" style="left:285.00px;width:1000px;text-align:center;transform-origin:50% 50%;top:1695.95px;font-size:6.4px;line-height:8px;color:#666;font-weight:400;transform:scaleX(1.0000);">4</div>
<div class="t" style="left:285.00px;width:1000px;text-align:center;transform-origin:50% 50%;top:1671.76px;font-size:6.4px;line-height:8px;color:#666;font-weight:400;transform:scaleX(1.0000);">5</div>
<div class="t" style="left:402.50px;width:1000px;text-align:center;transform-origin:50% 50%;top:1650.70px;font-size:6.9px;line-height:9px;color:#1c2b4a;font-weight:700;transform:scaleX(0.9400);">Resilience</div>
<div class="t" style="left:325.00px;width:1000px;text-align:center;transform-origin:50% 50%;top:1716.57px;font-size:6.6px;line-height:8px;color:#222;font-weight:700;transform:scaleX(1.0400);">2.9</div>
<div class="t" style="left:380.50px;width:1000px;text-align:center;transform-origin:50% 50%;top:1762.53px;font-size:6.6px;line-height:8px;color:#222;font-weight:700;transform:scaleX(1.0400);">1</div>
<div class="t" style="left:436.00px;width:1000px;text-align:center;transform-origin:50% 50%;top:1706.90px;font-size:6.6px;line-height:8px;color:#222;font-weight:700;transform:scaleX(1.0400);">3.3</div>
<div class="t" style="left:491.50px;width:1000px;text-align:center;transform-origin:50% 50%;top:1714.15px;font-size:6.6px;line-height:8px;color:#222;font-weight:700;transform:scaleX(1.0400);">3</div>
<div class="t" style="left:-425.00px;width:1000px;text-align:center;transform-origin:50% 50%;top:1992.27px;font-size:6.4px;line-height:8px;color:#666;font-weight:400;transform:scaleX(1.0000);">0</div>
<div class="t" style="left:-425.00px;width:1000px;text-align:center;transform-origin:50% 50%;top:1968.04px;font-size:6.4px;line-height:8px;color:#666;font-weight:400;transform:scaleX(1.0000);">1</div>
<div class="t" style="left:-425.00px;width:1000px;text-align:center;transform-origin:50% 50%;top:1943.81px;font-size:6.4px;line-height:8px;color:#666;font-weight:400;transform:scaleX(1.0000);">2</div>
<div class="t" style="left:-425.00px;width:1000px;text-align:center;transform-origin:50% 50%;top:1919.58px;font-size:6.4px;line-height:8px;color:#666;font-weight:400;transform:scaleX(1.0000);">3</div>
<div class="t" style="left:-425.00px;width:1000px;text-align:center;transform-origin:50% 50%;top:1895.34px;font-size:6.4px;line-height:8px;color:#666;font-weight:400;transform:scaleX(1.0000);">4</div>
<div class="t" style="left:-425.00px;width:1000px;text-align:center;transform-origin:50% 50%;top:1871.11px;font-size:6.4px;line-height:8px;color:#666;font-weight:400;transform:scaleX(1.0000);">5</div>
<div class="t" style="left:-307.50px;width:1000px;text-align:center;transform-origin:50% 50%;top:1850.05px;font-size:6.9px;line-height:9px;color:#1c2b4a;font-weight:700;transform:scaleX(0.9400);">Strategic Thinking</div>
<div class="t" style="left:-385.00px;width:1000px;text-align:center;transform-origin:50% 50%;top:1913.59px;font-size:6.6px;line-height:8px;color:#222;font-weight:700;transform:scaleX(1.0400);">3</div>
<div class="t" style="left:-329.50px;width:1000px;text-align:center;transform-origin:50% 50%;top:1906.32px;font-size:6.6px;line-height:8px;color:#222;font-weight:700;transform:scaleX(1.0400);">3.3</div>
<div class="t" style="left:-274.00px;width:1000px;text-align:center;transform-origin:50% 50%;top:1908.75px;font-size:6.6px;line-height:8px;color:#222;font-weight:700;transform:scaleX(1.0400);">3.2</div>
<div class="t" style="left:-218.50px;width:1000px;text-align:center;transform-origin:50% 50%;top:1918.44px;font-size:6.6px;line-height:8px;color:#222;font-weight:700;transform:scaleX(1.0400);">2.8</div>
</div></body></html>
